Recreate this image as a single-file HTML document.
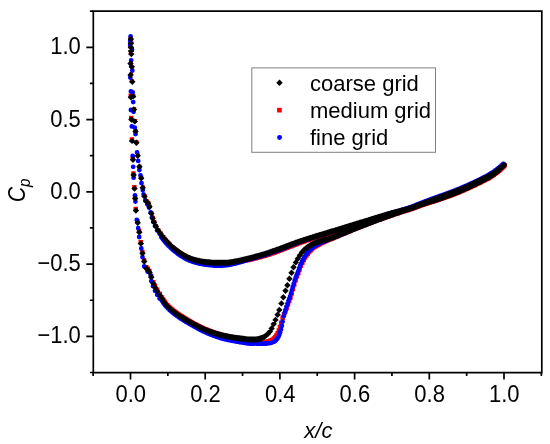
<!DOCTYPE html>
<html><head><meta charset="utf-8"><title>Cp distribution</title>
<style>html,body{margin:0;padding:0;background:#fff}svg{display:block}</style></head>
<body>
<svg width="550" height="444" viewBox="0 0 550 444">
<rect width="550" height="444" fill="#fff"/>
<path fill="#f00" d="M128.5 93.6h4.5v4.5h-4.5zM129.0 115.8h4.5v4.5h-4.5zM129.7 137.2h4.5v4.5h-4.5zM130.6 156.2h4.5v4.5h-4.5zM131.2 171.3h4.5v4.5h-4.5zM132.1 184.9h4.5v4.5h-4.5zM132.8 194.9h4.5v4.5h-4.5zM133.5 206.8h4.5v4.5h-4.5zM135.2 219.0h4.5v4.5h-4.5zM136.9 228.7h4.5v4.5h-4.5zM138.5 239.9h4.5v4.5h-4.5zM140.1 249.7h4.5v4.5h-4.5zM141.8 257.9h4.5v4.5h-4.5zM144.0 264.9h4.5v4.5h-4.5zM145.6 266.6h4.5v4.5h-4.5zM147.2 268.8h4.5v4.5h-4.5zM148.9 273.7h4.5v4.5h-4.5zM151.0 280.0h4.5v4.5h-4.5zM152.7 283.8h4.5v4.5h-4.5zM154.9 287.6h4.5v4.5h-4.5zM157.6 291.8h4.5v4.5h-4.5zM159.8 295.2h4.5v4.5h-4.5zM161.1 297.4h4.5v4.5h-4.5zM162.4 299.5h4.5v4.5h-4.5zM163.8 301.4h4.5v4.5h-4.5zM165.1 303.0h4.5v4.5h-4.5zM166.5 304.4h4.5v4.5h-4.5zM167.8 305.6h4.5v4.5h-4.5zM169.1 306.7h4.5v4.5h-4.5zM170.4 307.8h4.5v4.5h-4.5zM171.8 308.9h4.5v4.5h-4.5zM173.0 309.8h4.5v4.5h-4.5zM174.4 310.8h4.5v4.5h-4.5zM175.7 311.8h4.5v4.5h-4.5zM177.0 312.6h4.5v4.5h-4.5zM178.3 313.5h4.5v4.5h-4.5zM179.6 314.3h4.5v4.5h-4.5zM180.9 315.1h4.5v4.5h-4.5zM182.2 315.9h4.5v4.5h-4.5zM183.5 316.7h4.5v4.5h-4.5zM184.8 317.5h4.5v4.5h-4.5zM186.1 318.3h4.5v4.5h-4.5zM187.4 319.0h4.5v4.5h-4.5zM188.7 319.7h4.5v4.5h-4.5zM190.0 320.4h4.5v4.5h-4.5zM191.3 321.2h4.5v4.5h-4.5zM192.6 321.9h4.5v4.5h-4.5zM193.9 322.5h4.5v4.5h-4.5zM195.2 323.2h4.5v4.5h-4.5zM196.5 323.9h4.5v4.5h-4.5zM197.8 324.5h4.5v4.5h-4.5zM199.1 325.2h4.5v4.5h-4.5zM200.4 325.8h4.5v4.5h-4.5zM201.7 326.4h4.5v4.5h-4.5zM203.0 327.0h4.5v4.5h-4.5zM204.4 327.6h4.5v4.5h-4.5zM205.6 328.1h4.5v4.5h-4.5zM207.0 328.6h4.5v4.5h-4.5zM208.2 329.1h4.5v4.5h-4.5zM209.6 329.6h4.5v4.5h-4.5zM210.9 330.0h4.5v4.5h-4.5zM212.2 330.5h4.5v4.5h-4.5zM213.5 330.9h4.5v4.5h-4.5zM214.8 331.3h4.5v4.5h-4.5zM216.1 331.7h4.5v4.5h-4.5zM217.4 332.0h4.5v4.5h-4.5zM218.7 332.4h4.5v4.5h-4.5zM220.0 332.8h4.5v4.5h-4.5zM221.3 333.1h4.5v4.5h-4.5zM222.6 333.4h4.5v4.5h-4.5zM223.9 333.7h4.5v4.5h-4.5zM225.2 334.0h4.5v4.5h-4.5zM226.5 334.2h4.5v4.5h-4.5zM227.8 334.5h4.5v4.5h-4.5zM229.1 334.8h4.5v4.5h-4.5zM230.4 335.1h4.5v4.5h-4.5zM231.7 335.4h4.5v4.5h-4.5zM233.0 335.7h4.5v4.5h-4.5zM234.3 336.0h4.5v4.5h-4.5zM235.6 336.3h4.5v4.5h-4.5zM236.9 336.5h4.5v4.5h-4.5zM238.2 336.8h4.5v4.5h-4.5zM239.5 337.1h4.5v4.5h-4.5zM240.8 337.4h4.5v4.5h-4.5zM242.1 337.6h4.5v4.5h-4.5zM243.4 337.9h4.5v4.5h-4.5zM244.7 338.2h4.5v4.5h-4.5zM246.0 338.4h4.5v4.5h-4.5zM247.3 338.6h4.5v4.5h-4.5zM248.6 338.7h4.5v4.5h-4.5zM249.9 338.8h4.5v4.5h-4.5zM251.2 338.9h4.5v4.5h-4.5zM252.5 339.0h4.5v4.5h-4.5zM253.8 339.1h4.5v4.5h-4.5zM255.1 339.3h4.5v4.5h-4.5zM256.4 339.4h4.5v4.5h-4.5zM257.7 339.6h4.5v4.5h-4.5zM259.0 339.6h4.5v4.5h-4.5zM260.3 339.6h4.5v4.5h-4.5zM261.6 339.6h4.5v4.5h-4.5zM262.9 339.5h4.5v4.5h-4.5zM264.2 339.4h4.5v4.5h-4.5zM265.5 339.3h4.5v4.5h-4.5zM266.8 339.0h4.5v4.5h-4.5zM268.0 338.6h4.5v4.5h-4.5zM269.3 338.0h4.5v4.5h-4.5zM270.6 337.2h4.5v4.5h-4.5zM271.8 336.2h4.5v4.5h-4.5zM273.0 334.9h4.5v4.5h-4.5zM274.2 333.2h4.5v4.5h-4.5zM275.4 331.0h4.5v4.5h-4.5zM276.6 328.2h4.5v4.5h-4.5zM277.7 324.8h4.5v4.5h-4.5zM279.0 320.5h4.5v4.5h-4.5zM280.4 315.6h4.5v4.5h-4.5zM281.8 312.0h4.5v4.5h-4.5zM283.1 309.0h4.5v4.5h-4.5zM284.4 305.7h4.5v4.5h-4.5zM285.7 302.2h4.5v4.5h-4.5zM287.0 298.7h4.5v4.5h-4.5zM288.2 295.4h4.5v4.5h-4.5zM289.4 291.3h4.5v4.5h-4.5zM290.7 286.8h4.5v4.5h-4.5zM292.0 282.3h4.5v4.5h-4.5zM293.4 277.9h4.5v4.5h-4.5zM294.8 274.1h4.5v4.5h-4.5zM296.1 270.8h4.5v4.5h-4.5zM297.3 267.3h4.5v4.5h-4.5zM298.7 263.6h4.5v4.5h-4.5zM300.1 260.5h4.5v4.5h-4.5zM301.5 257.7h4.5v4.5h-4.5zM302.8 255.3h4.5v4.5h-4.5zM304.2 253.2h4.5v4.5h-4.5zM305.5 251.4h4.5v4.5h-4.5zM306.9 249.7h4.5v4.5h-4.5zM308.2 248.3h4.5v4.5h-4.5zM309.5 247.0h4.5v4.5h-4.5zM310.9 245.8h4.5v4.5h-4.5zM312.2 244.8h4.5v4.5h-4.5zM313.5 244.0h4.5v4.5h-4.5zM314.9 243.2h4.5v4.5h-4.5zM316.2 242.5h4.5v4.5h-4.5zM317.5 241.8h4.5v4.5h-4.5zM318.8 241.1h4.5v4.5h-4.5zM320.1 240.4h4.5v4.5h-4.5zM321.4 239.8h4.5v4.5h-4.5zM322.7 239.2h4.5v4.5h-4.5zM324.0 238.6h4.5v4.5h-4.5zM325.3 238.0h4.5v4.5h-4.5zM326.6 237.4h4.5v4.5h-4.5zM327.9 236.9h4.5v4.5h-4.5zM329.2 236.4h4.5v4.5h-4.5zM330.5 235.9h4.5v4.5h-4.5zM331.8 235.3h4.5v4.5h-4.5zM333.1 234.8h4.5v4.5h-4.5zM334.4 234.2h4.5v4.5h-4.5zM335.7 233.7h4.5v4.5h-4.5zM337.0 233.1h4.5v4.5h-4.5zM338.3 232.6h4.5v4.5h-4.5zM339.6 232.0h4.5v4.5h-4.5zM340.9 231.4h4.5v4.5h-4.5zM342.2 230.9h4.5v4.5h-4.5zM343.5 230.3h4.5v4.5h-4.5zM344.8 229.8h4.5v4.5h-4.5zM346.1 229.3h4.5v4.5h-4.5zM347.4 228.7h4.5v4.5h-4.5zM348.7 228.2h4.5v4.5h-4.5zM350.0 227.6h4.5v4.5h-4.5zM351.3 227.1h4.5v4.5h-4.5zM352.6 226.6h4.5v4.5h-4.5zM353.9 226.1h4.5v4.5h-4.5zM355.2 225.5h4.5v4.5h-4.5zM356.5 225.0h4.5v4.5h-4.5zM357.8 224.5h4.5v4.5h-4.5zM359.1 224.0h4.5v4.5h-4.5zM360.4 223.5h4.5v4.5h-4.5zM361.7 223.0h4.5v4.5h-4.5zM363.0 222.5h4.5v4.5h-4.5zM364.3 222.0h4.5v4.5h-4.5zM365.6 221.5h4.5v4.5h-4.5zM366.9 221.0h4.5v4.5h-4.5zM368.2 220.5h4.5v4.5h-4.5zM369.5 220.1h4.5v4.5h-4.5zM370.8 219.6h4.5v4.5h-4.5zM372.1 219.1h4.5v4.5h-4.5zM373.4 218.6h4.5v4.5h-4.5zM374.7 218.1h4.5v4.5h-4.5zM376.0 217.6h4.5v4.5h-4.5zM377.3 217.2h4.5v4.5h-4.5zM378.6 216.7h4.5v4.5h-4.5zM379.9 216.2h4.5v4.5h-4.5zM381.2 215.8h4.5v4.5h-4.5zM382.5 215.3h4.5v4.5h-4.5zM383.8 214.8h4.5v4.5h-4.5zM385.1 214.4h4.5v4.5h-4.5zM386.4 213.9h4.5v4.5h-4.5zM387.7 213.5h4.5v4.5h-4.5zM389.0 213.0h4.5v4.5h-4.5zM390.3 212.6h4.5v4.5h-4.5zM391.6 212.1h4.5v4.5h-4.5zM392.9 211.7h4.5v4.5h-4.5zM394.2 211.3h4.5v4.5h-4.5zM395.5 210.9h4.5v4.5h-4.5zM396.8 210.4h4.5v4.5h-4.5zM398.1 210.0h4.5v4.5h-4.5zM399.4 209.6h4.5v4.5h-4.5zM400.7 209.2h4.5v4.5h-4.5zM402.0 208.7h4.5v4.5h-4.5zM403.3 208.3h4.5v4.5h-4.5zM404.6 207.9h4.5v4.5h-4.5zM405.9 207.5h4.5v4.5h-4.5zM407.2 207.0h4.5v4.5h-4.5zM408.5 206.6h4.5v4.5h-4.5zM409.8 206.1h4.5v4.5h-4.5zM411.1 205.7h4.5v4.5h-4.5zM412.4 205.2h4.5v4.5h-4.5zM413.7 204.8h4.5v4.5h-4.5zM415.0 204.3h4.5v4.5h-4.5zM416.3 203.9h4.5v4.5h-4.5zM417.6 203.4h4.5v4.5h-4.5zM418.9 203.0h4.5v4.5h-4.5zM420.2 202.5h4.5v4.5h-4.5zM421.5 202.1h4.5v4.5h-4.5zM422.8 201.6h4.5v4.5h-4.5zM424.1 201.2h4.5v4.5h-4.5zM425.4 200.8h4.5v4.5h-4.5zM426.7 200.4h4.5v4.5h-4.5zM428.0 200.0h4.5v4.5h-4.5zM429.3 199.6h4.5v4.5h-4.5zM430.6 199.2h4.5v4.5h-4.5zM431.9 198.8h4.5v4.5h-4.5zM433.2 198.4h4.5v4.5h-4.5zM434.5 197.9h4.5v4.5h-4.5zM435.8 197.5h4.5v4.5h-4.5zM437.1 197.0h4.5v4.5h-4.5zM438.4 196.6h4.5v4.5h-4.5zM439.7 196.2h4.5v4.5h-4.5zM441.0 195.7h4.5v4.5h-4.5zM442.3 195.3h4.5v4.5h-4.5zM443.6 194.8h4.5v4.5h-4.5zM444.9 194.3h4.5v4.5h-4.5zM446.2 193.9h4.5v4.5h-4.5zM447.5 193.4h4.5v4.5h-4.5zM448.8 192.9h4.5v4.5h-4.5zM450.1 192.4h4.5v4.5h-4.5zM451.4 191.9h4.5v4.5h-4.5zM452.7 191.4h4.5v4.5h-4.5zM454.0 190.9h4.5v4.5h-4.5zM455.3 190.4h4.5v4.5h-4.5zM456.6 189.9h4.5v4.5h-4.5zM457.9 189.3h4.5v4.5h-4.5zM459.2 188.8h4.5v4.5h-4.5zM460.5 188.2h4.5v4.5h-4.5zM461.8 187.7h4.5v4.5h-4.5zM463.1 187.1h4.5v4.5h-4.5zM464.4 186.5h4.5v4.5h-4.5zM465.7 185.9h4.5v4.5h-4.5zM467.0 185.3h4.5v4.5h-4.5zM468.3 184.7h4.5v4.5h-4.5zM469.6 184.1h4.5v4.5h-4.5zM470.9 183.5h4.5v4.5h-4.5zM472.2 182.9h4.5v4.5h-4.5zM473.5 182.3h4.5v4.5h-4.5zM474.8 181.6h4.5v4.5h-4.5zM476.1 181.0h4.5v4.5h-4.5zM477.4 180.4h4.5v4.5h-4.5zM478.7 179.8h4.5v4.5h-4.5zM480.0 179.1h4.5v4.5h-4.5zM481.3 178.5h4.5v4.5h-4.5zM482.6 177.8h4.5v4.5h-4.5zM483.9 177.1h4.5v4.5h-4.5zM485.2 176.4h4.5v4.5h-4.5zM486.5 175.7h4.5v4.5h-4.5zM487.8 174.9h4.5v4.5h-4.5zM489.1 174.1h4.5v4.5h-4.5zM490.3 173.3h4.5v4.5h-4.5zM491.6 172.5h4.5v4.5h-4.5zM492.9 171.5h4.5v4.5h-4.5zM494.2 170.5h4.5v4.5h-4.5zM495.5 169.5h4.5v4.5h-4.5zM496.8 168.5h4.5v4.5h-4.5zM498.0 167.3h4.5v4.5h-4.5zM499.4 166.1h4.5v4.5h-4.5zM500.6 164.9h4.5v4.5h-4.5zM501.7 163.9h4.5v4.5h-4.5zM160.9 235.3h4.5v4.5h-4.5zM162.2 236.8h4.5v4.5h-4.5zM163.5 238.4h4.5v4.5h-4.5zM164.8 239.8h4.5v4.5h-4.5zM166.1 241.3h4.5v4.5h-4.5zM167.5 242.6h4.5v4.5h-4.5zM168.8 243.9h4.5v4.5h-4.5zM170.1 245.0h4.5v4.5h-4.5zM171.4 246.2h4.5v4.5h-4.5zM172.7 247.2h4.5v4.5h-4.5zM174.0 248.3h4.5v4.5h-4.5zM175.4 249.3h4.5v4.5h-4.5zM176.7 250.2h4.5v4.5h-4.5zM178.0 251.0h4.5v4.5h-4.5zM179.2 251.9h4.5v4.5h-4.5zM180.6 252.7h4.5v4.5h-4.5zM181.9 253.5h4.5v4.5h-4.5zM183.2 254.3h4.5v4.5h-4.5zM184.5 255.0h4.5v4.5h-4.5zM185.8 255.6h4.5v4.5h-4.5zM187.1 256.2h4.5v4.5h-4.5zM188.4 256.7h4.5v4.5h-4.5zM189.7 257.2h4.5v4.5h-4.5zM191.0 257.6h4.5v4.5h-4.5zM192.4 258.0h4.5v4.5h-4.5zM193.7 258.3h4.5v4.5h-4.5zM195.0 258.6h4.5v4.5h-4.5zM196.3 258.9h4.5v4.5h-4.5zM197.5 259.2h4.5v4.5h-4.5zM198.9 259.4h4.5v4.5h-4.5zM200.2 259.6h4.5v4.5h-4.5zM201.5 259.8h4.5v4.5h-4.5zM202.8 260.0h4.5v4.5h-4.5zM204.1 260.2h4.5v4.5h-4.5zM205.4 260.3h4.5v4.5h-4.5zM206.7 260.4h4.5v4.5h-4.5zM208.0 260.6h4.5v4.5h-4.5zM209.3 260.7h4.5v4.5h-4.5zM210.6 260.8h4.5v4.5h-4.5zM211.9 260.9h4.5v4.5h-4.5zM213.2 260.9h4.5v4.5h-4.5zM214.5 260.9h4.5v4.5h-4.5zM215.8 260.9h4.5v4.5h-4.5zM217.1 260.9h4.5v4.5h-4.5zM218.4 260.9h4.5v4.5h-4.5zM219.7 260.9h4.5v4.5h-4.5zM221.0 260.9h4.5v4.5h-4.5zM222.3 260.9h4.5v4.5h-4.5zM223.6 260.9h4.5v4.5h-4.5zM224.9 260.8h4.5v4.5h-4.5zM226.2 260.7h4.5v4.5h-4.5zM227.5 260.5h4.5v4.5h-4.5zM228.8 260.3h4.5v4.5h-4.5zM230.1 260.1h4.5v4.5h-4.5zM231.4 259.9h4.5v4.5h-4.5zM232.6 259.7h4.5v4.5h-4.5zM234.0 259.5h4.5v4.5h-4.5zM235.3 259.4h4.5v4.5h-4.5zM236.6 259.2h4.5v4.5h-4.5zM237.9 259.0h4.5v4.5h-4.5zM239.2 258.8h4.5v4.5h-4.5zM240.5 258.6h4.5v4.5h-4.5zM241.8 258.4h4.5v4.5h-4.5zM243.1 258.2h4.5v4.5h-4.5zM244.4 258.0h4.5v4.5h-4.5zM245.6 257.7h4.5v4.5h-4.5zM247.0 257.5h4.5v4.5h-4.5zM248.3 257.3h4.5v4.5h-4.5zM249.6 256.9h4.5v4.5h-4.5zM250.8 256.6h4.5v4.5h-4.5zM252.2 256.3h4.5v4.5h-4.5zM253.5 255.9h4.5v4.5h-4.5zM254.7 255.6h4.5v4.5h-4.5zM256.0 255.2h4.5v4.5h-4.5zM257.4 254.9h4.5v4.5h-4.5zM258.7 254.5h4.5v4.5h-4.5zM260.0 254.1h4.5v4.5h-4.5zM261.3 253.8h4.5v4.5h-4.5zM262.6 253.4h4.5v4.5h-4.5zM263.9 253.0h4.5v4.5h-4.5zM265.2 252.6h4.5v4.5h-4.5zM266.5 252.2h4.5v4.5h-4.5zM267.8 251.7h4.5v4.5h-4.5zM269.1 251.3h4.5v4.5h-4.5zM270.3 250.9h4.5v4.5h-4.5zM271.7 250.4h4.5v4.5h-4.5zM272.9 249.9h4.5v4.5h-4.5zM274.3 249.5h4.5v4.5h-4.5zM275.5 249.0h4.5v4.5h-4.5zM276.9 248.6h4.5v4.5h-4.5zM278.1 248.1h4.5v4.5h-4.5zM279.5 247.6h4.5v4.5h-4.5zM280.7 247.1h4.5v4.5h-4.5zM282.0 246.6h4.5v4.5h-4.5zM283.3 246.1h4.5v4.5h-4.5zM284.6 245.6h4.5v4.5h-4.5zM286.0 245.1h4.5v4.5h-4.5zM287.2 244.6h4.5v4.5h-4.5zM288.5 244.1h4.5v4.5h-4.5zM289.8 243.6h4.5v4.5h-4.5zM291.1 243.1h4.5v4.5h-4.5zM292.4 242.6h4.5v4.5h-4.5zM293.8 242.0h4.5v4.5h-4.5zM295.1 241.5h4.5v4.5h-4.5zM296.3 241.1h4.5v4.5h-4.5zM297.6 240.6h4.5v4.5h-4.5zM298.9 240.1h4.5v4.5h-4.5zM300.2 239.7h4.5v4.5h-4.5zM301.6 239.2h4.5v4.5h-4.5zM302.8 238.8h4.5v4.5h-4.5zM304.2 238.3h4.5v4.5h-4.5zM305.4 237.9h4.5v4.5h-4.5zM306.8 237.5h4.5v4.5h-4.5zM308.0 237.1h4.5v4.5h-4.5zM309.4 236.6h4.5v4.5h-4.5zM310.7 236.2h4.5v4.5h-4.5zM311.9 235.8h4.5v4.5h-4.5zM313.3 235.4h4.5v4.5h-4.5zM314.6 235.0h4.5v4.5h-4.5zM315.8 234.6h4.5v4.5h-4.5zM317.1 234.2h4.5v4.5h-4.5zM318.5 233.7h4.5v4.5h-4.5zM319.8 233.3h4.5v4.5h-4.5zM321.0 232.9h4.5v4.5h-4.5zM322.3 232.5h4.5v4.5h-4.5zM323.7 232.1h4.5v4.5h-4.5zM325.0 231.7h4.5v4.5h-4.5zM326.2 231.3h4.5v4.5h-4.5zM327.5 230.9h4.5v4.5h-4.5zM328.9 230.5h4.5v4.5h-4.5zM330.2 230.1h4.5v4.5h-4.5zM331.5 229.7h4.5v4.5h-4.5zM332.7 229.3h4.5v4.5h-4.5zM334.0 228.9h4.5v4.5h-4.5zM335.4 228.5h4.5v4.5h-4.5zM336.7 228.1h4.5v4.5h-4.5zM337.9 227.7h4.5v4.5h-4.5zM339.2 227.3h4.5v4.5h-4.5zM340.5 226.9h4.5v4.5h-4.5zM341.9 226.5h4.5v4.5h-4.5zM343.2 226.1h4.5v4.5h-4.5zM344.4 225.7h4.5v4.5h-4.5zM345.7 225.3h4.5v4.5h-4.5zM347.0 224.9h4.5v4.5h-4.5zM348.4 224.5h4.5v4.5h-4.5zM349.7 224.1h4.5v4.5h-4.5zM351.0 223.7h4.5v4.5h-4.5zM352.2 223.3h4.5v4.5h-4.5zM353.5 222.9h4.5v4.5h-4.5zM354.9 222.5h4.5v4.5h-4.5zM356.2 222.1h4.5v4.5h-4.5zM357.5 221.7h4.5v4.5h-4.5zM358.7 221.3h4.5v4.5h-4.5zM360.0 220.9h4.5v4.5h-4.5zM361.3 220.5h4.5v4.5h-4.5zM362.7 220.1h4.5v4.5h-4.5zM364.0 219.7h4.5v4.5h-4.5zM365.2 219.3h4.5v4.5h-4.5zM366.5 218.9h4.5v4.5h-4.5zM367.8 218.5h4.5v4.5h-4.5zM369.2 218.1h4.5v4.5h-4.5zM370.5 217.7h4.5v4.5h-4.5zM371.7 217.3h4.5v4.5h-4.5zM373.0 216.9h4.5v4.5h-4.5zM374.4 216.5h4.5v4.5h-4.5zM375.7 216.1h4.5v4.5h-4.5zM377.0 215.7h4.5v4.5h-4.5zM378.2 215.3h4.5v4.5h-4.5zM379.5 214.9h4.5v4.5h-4.5zM380.9 214.5h4.5v4.5h-4.5zM382.2 214.1h4.5v4.5h-4.5zM383.5 213.7h4.5v4.5h-4.5zM384.8 213.4h4.5v4.5h-4.5zM386.0 213.0h4.5v4.5h-4.5zM387.3 212.6h4.5v4.5h-4.5zM388.6 212.2h4.5v4.5h-4.5zM390.0 211.9h4.5v4.5h-4.5zM391.3 211.5h4.5v4.5h-4.5zM392.6 211.2h4.5v4.5h-4.5zM393.9 210.8h4.5v4.5h-4.5zM395.2 210.5h4.5v4.5h-4.5zM396.4 210.1h4.5v4.5h-4.5zM397.8 209.8h4.5v4.5h-4.5zM399.1 209.5h4.5v4.5h-4.5zM400.4 209.1h4.5v4.5h-4.5zM401.7 208.8h4.5v4.5h-4.5zM402.9 208.4h4.5v4.5h-4.5zM404.2 208.0h4.5v4.5h-4.5zM405.5 207.7h4.5v4.5h-4.5zM406.8 207.3h4.5v4.5h-4.5zM408.1 206.9h4.5v4.5h-4.5zM409.4 206.4h4.5v4.5h-4.5zM410.7 206.0h4.5v4.5h-4.5zM412.0 205.5h4.5v4.5h-4.5zM413.3 205.0h4.5v4.5h-4.5zM414.6 204.6h4.5v4.5h-4.5zM415.9 204.1h4.5v4.5h-4.5zM417.3 203.6h4.5v4.5h-4.5zM418.5 203.1h4.5v4.5h-4.5zM419.8 202.6h4.5v4.5h-4.5zM421.2 202.2h4.5v4.5h-4.5zM422.4 201.7h4.5v4.5h-4.5zM423.7 201.2h4.5v4.5h-4.5zM425.1 200.7h4.5v4.5h-4.5zM426.3 200.3h4.5v4.5h-4.5zM427.6 199.8h4.5v4.5h-4.5zM429.0 199.3h4.5v4.5h-4.5zM430.2 198.9h4.5v4.5h-4.5zM431.5 198.4h4.5v4.5h-4.5zM432.9 197.9h4.5v4.5h-4.5zM434.1 197.4h4.5v4.5h-4.5zM435.4 197.0h4.5v4.5h-4.5zM436.8 196.5h4.5v4.5h-4.5zM438.0 196.0h4.5v4.5h-4.5zM439.3 195.5h4.5v4.5h-4.5zM440.7 195.1h4.5v4.5h-4.5zM441.9 194.6h4.5v4.5h-4.5zM443.2 194.1h4.5v4.5h-4.5zM444.6 193.6h4.5v4.5h-4.5zM445.8 193.2h4.5v4.5h-4.5zM447.1 192.7h4.5v4.5h-4.5zM448.5 192.2h4.5v4.5h-4.5zM449.7 191.7h4.5v4.5h-4.5zM451.0 191.2h4.5v4.5h-4.5zM452.3 190.7h4.5v4.5h-4.5zM453.6 190.2h4.5v4.5h-4.5zM454.9 189.6h4.5v4.5h-4.5zM456.2 189.1h4.5v4.5h-4.5zM457.5 188.6h4.5v4.5h-4.5zM458.8 188.0h4.5v4.5h-4.5zM460.1 187.5h4.5v4.5h-4.5zM461.4 186.9h4.5v4.5h-4.5zM462.7 186.4h4.5v4.5h-4.5zM464.0 185.8h4.5v4.5h-4.5zM465.3 185.2h4.5v4.5h-4.5zM466.6 184.6h4.5v4.5h-4.5zM467.9 184.0h4.5v4.5h-4.5zM469.2 183.4h4.5v4.5h-4.5zM470.5 182.8h4.5v4.5h-4.5zM471.8 182.2h4.5v4.5h-4.5zM473.1 181.6h4.5v4.5h-4.5zM474.4 180.9h4.5v4.5h-4.5zM475.7 180.3h4.5v4.5h-4.5zM477.0 179.7h4.5v4.5h-4.5zM478.3 179.1h4.5v4.5h-4.5zM479.6 178.4h4.5v4.5h-4.5zM480.9 177.8h4.5v4.5h-4.5zM482.2 177.1h4.5v4.5h-4.5zM483.5 176.4h4.5v4.5h-4.5zM484.8 175.7h4.5v4.5h-4.5zM486.1 175.0h4.5v4.5h-4.5zM487.4 174.3h4.5v4.5h-4.5zM488.7 173.5h4.5v4.5h-4.5zM490.0 172.7h4.5v4.5h-4.5zM491.2 171.9h4.5v4.5h-4.5zM492.5 171.0h4.5v4.5h-4.5zM493.9 170.1h4.5v4.5h-4.5zM495.2 169.2h4.5v4.5h-4.5zM496.4 168.2h4.5v4.5h-4.5zM497.7 167.1h4.5v4.5h-4.5zM499.0 166.1h4.5v4.5h-4.5zM500.3 165.0h4.5v4.5h-4.5zM501.6 163.8h4.5v4.5h-4.5zM502.3 163.1h4.5v4.5h-4.5zM131.6 94.0h3.8v3.8h-3.8zM132.3 107.1h3.8v3.8h-3.8zM133.2 119.0h3.8v3.8h-3.8zM133.9 129.0h3.8v3.8h-3.8zM134.8 140.3h3.8v3.8h-3.8zM136.1 153.3h3.8v3.8h-3.8zM137.8 164.4h3.8v3.8h-3.8zM139.6 175.8h3.8v3.8h-3.8zM141.1 185.3h3.8v3.8h-3.8zM142.9 194.0h3.8v3.8h-3.8zM144.8 199.0h3.8v3.8h-3.8zM146.6 200.8h3.8v3.8h-3.8zM147.9 204.4h3.8v3.8h-3.8zM149.8 211.2h3.8v3.8h-3.8zM151.1 215.8h3.8v3.8h-3.8zM152.5 219.9h3.8v3.8h-3.8zM154.3 224.0h3.8v3.8h-3.8zM156.6 228.1h3.8v3.8h-3.8zM158.9 231.2h3.8v3.8h-3.8zM128.4 36.4h3.8v3.8h-3.8zM129.6 40.5h3.8v3.8h-3.8zM128.4 44.6h3.8v3.8h-3.8zM129.7 48.3h3.8v3.8h-3.8zM128.8 51.3h3.8v3.8h-3.8zM129.2 60.9h3.8v3.8h-3.8zM129.3 64.1h3.8v3.8h-3.8zM129.3 72.3h3.8v3.8h-3.8zM129.8 79.1h3.8v3.8h-3.8z"/>
<path fill="#00f" d="M128.2 36.4a2.40 2.40 0 1 0 4.8 0a2.40 2.40 0 1 0 -4.8 0zM127.8 41.0a2.40 2.40 0 1 0 4.8 0a2.40 2.40 0 1 0 -4.8 0zM129.6 49.5a2.40 2.40 0 1 0 4.8 0a2.40 2.40 0 1 0 -4.8 0zM127.8 45.5a2.40 2.40 0 1 0 4.8 0a2.40 2.40 0 1 0 -4.8 0zM128.8 60.3a2.40 2.40 0 1 0 4.8 0a2.40 2.40 0 1 0 -4.8 0zM129.9 70.5a2.40 2.40 0 1 0 4.8 0a2.40 2.40 0 1 0 -4.8 0zM127.9 77.5a2.40 2.40 0 1 0 4.8 0a2.40 2.40 0 1 0 -4.8 0zM128.5 91.4a2.40 2.40 0 1 0 4.8 0a2.40 2.40 0 1 0 -4.8 0zM130.3 92.3a2.40 2.40 0 1 0 4.8 0a2.40 2.40 0 1 0 -4.8 0zM128.5 110.0a2.40 2.40 0 1 0 4.8 0a2.40 2.40 0 1 0 -4.8 0zM129.4 126.4a2.40 2.40 0 1 0 4.8 0a2.40 2.40 0 1 0 -4.8 0zM130.3 155.9a2.40 2.40 0 1 0 4.8 0a2.40 2.40 0 1 0 -4.8 0zM130.8 166.8a2.40 2.40 0 1 0 4.8 0a2.40 2.40 0 1 0 -4.8 0zM131.2 177.7a2.40 2.40 0 1 0 4.8 0a2.40 2.40 0 1 0 -4.8 0zM132.6 195.5a2.40 2.40 0 1 0 4.8 0a2.40 2.40 0 1 0 -4.8 0zM133.0 201.6a2.40 2.40 0 1 0 4.8 0a2.40 2.40 0 1 0 -4.8 0zM134.4 220.0a2.40 2.40 0 1 0 4.8 0a2.40 2.40 0 1 0 -4.8 0zM135.8 228.2a2.40 2.40 0 1 0 4.8 0a2.40 2.40 0 1 0 -4.8 0zM136.8 237.0a2.40 2.40 0 1 0 4.8 0a2.40 2.40 0 1 0 -4.8 0zM138.9 248.5a2.40 2.40 0 1 0 4.8 0a2.40 2.40 0 1 0 -4.8 0zM140.1 257.1a2.40 2.40 0 1 0 4.8 0a2.40 2.40 0 1 0 -4.8 0zM141.8 266.4a2.40 2.40 0 1 0 4.8 0a2.40 2.40 0 1 0 -4.8 0zM145.2 271.5a2.40 2.40 0 1 0 4.8 0a2.40 2.40 0 1 0 -4.8 0zM148.3 275.6a2.40 2.40 0 1 0 4.8 0a2.40 2.40 0 1 0 -4.8 0zM148.9 281.1a2.40 2.40 0 1 0 4.8 0a2.40 2.40 0 1 0 -4.8 0zM150.6 286.2a2.40 2.40 0 1 0 4.8 0a2.40 2.40 0 1 0 -4.8 0zM152.6 290.8a2.40 2.40 0 1 0 4.8 0a2.40 2.40 0 1 0 -4.8 0zM154.8 294.8a2.40 2.40 0 1 0 4.8 0a2.40 2.40 0 1 0 -4.8 0zM157.2 298.6a2.40 2.40 0 1 0 4.8 0a2.40 2.40 0 1 0 -4.8 0zM159.2 300.0a2.40 2.40 0 1 0 4.8 0a2.40 2.40 0 1 0 -4.8 0zM160.1 301.5a2.40 2.40 0 1 0 4.8 0a2.40 2.40 0 1 0 -4.8 0zM161.0 303.0a2.40 2.40 0 1 0 4.8 0a2.40 2.40 0 1 0 -4.8 0zM162.0 304.3a2.40 2.40 0 1 0 4.8 0a2.40 2.40 0 1 0 -4.8 0zM162.9 305.5a2.40 2.40 0 1 0 4.8 0a2.40 2.40 0 1 0 -4.8 0zM163.8 306.6a2.40 2.40 0 1 0 4.8 0a2.40 2.40 0 1 0 -4.8 0zM164.8 307.6a2.40 2.40 0 1 0 4.8 0a2.40 2.40 0 1 0 -4.8 0zM165.7 308.6a2.40 2.40 0 1 0 4.8 0a2.40 2.40 0 1 0 -4.8 0zM166.6 309.4a2.40 2.40 0 1 0 4.8 0a2.40 2.40 0 1 0 -4.8 0zM167.5 310.2a2.40 2.40 0 1 0 4.8 0a2.40 2.40 0 1 0 -4.8 0zM168.4 311.0a2.40 2.40 0 1 0 4.8 0a2.40 2.40 0 1 0 -4.8 0zM169.3 311.8a2.40 2.40 0 1 0 4.8 0a2.40 2.40 0 1 0 -4.8 0zM170.2 312.5a2.40 2.40 0 1 0 4.8 0a2.40 2.40 0 1 0 -4.8 0zM171.1 313.3a2.40 2.40 0 1 0 4.8 0a2.40 2.40 0 1 0 -4.8 0zM172.0 314.0a2.40 2.40 0 1 0 4.8 0a2.40 2.40 0 1 0 -4.8 0zM172.9 314.7a2.40 2.40 0 1 0 4.8 0a2.40 2.40 0 1 0 -4.8 0zM173.8 315.3a2.40 2.40 0 1 0 4.8 0a2.40 2.40 0 1 0 -4.8 0zM174.7 316.0a2.40 2.40 0 1 0 4.8 0a2.40 2.40 0 1 0 -4.8 0zM175.6 316.6a2.40 2.40 0 1 0 4.8 0a2.40 2.40 0 1 0 -4.8 0zM176.5 317.2a2.40 2.40 0 1 0 4.8 0a2.40 2.40 0 1 0 -4.8 0zM177.4 317.9a2.40 2.40 0 1 0 4.8 0a2.40 2.40 0 1 0 -4.8 0zM178.3 318.4a2.40 2.40 0 1 0 4.8 0a2.40 2.40 0 1 0 -4.8 0zM179.2 319.0a2.40 2.40 0 1 0 4.8 0a2.40 2.40 0 1 0 -4.8 0zM180.1 319.6a2.40 2.40 0 1 0 4.8 0a2.40 2.40 0 1 0 -4.8 0zM181.1 320.2a2.40 2.40 0 1 0 4.8 0a2.40 2.40 0 1 0 -4.8 0zM181.9 320.7a2.40 2.40 0 1 0 4.8 0a2.40 2.40 0 1 0 -4.8 0zM182.8 321.3a2.40 2.40 0 1 0 4.8 0a2.40 2.40 0 1 0 -4.8 0zM183.7 321.9a2.40 2.40 0 1 0 4.8 0a2.40 2.40 0 1 0 -4.8 0zM184.6 322.4a2.40 2.40 0 1 0 4.8 0a2.40 2.40 0 1 0 -4.8 0zM185.6 323.0a2.40 2.40 0 1 0 4.8 0a2.40 2.40 0 1 0 -4.8 0zM186.5 323.5a2.40 2.40 0 1 0 4.8 0a2.40 2.40 0 1 0 -4.8 0zM187.3 324.0a2.40 2.40 0 1 0 4.8 0a2.40 2.40 0 1 0 -4.8 0zM188.3 324.6a2.40 2.40 0 1 0 4.8 0a2.40 2.40 0 1 0 -4.8 0zM189.2 325.1a2.40 2.40 0 1 0 4.8 0a2.40 2.40 0 1 0 -4.8 0zM190.1 325.6a2.40 2.40 0 1 0 4.8 0a2.40 2.40 0 1 0 -4.8 0zM191.0 326.1a2.40 2.40 0 1 0 4.8 0a2.40 2.40 0 1 0 -4.8 0zM191.9 326.6a2.40 2.40 0 1 0 4.8 0a2.40 2.40 0 1 0 -4.8 0zM192.7 327.1a2.40 2.40 0 1 0 4.8 0a2.40 2.40 0 1 0 -4.8 0zM193.7 327.6a2.40 2.40 0 1 0 4.8 0a2.40 2.40 0 1 0 -4.8 0zM194.6 328.0a2.40 2.40 0 1 0 4.8 0a2.40 2.40 0 1 0 -4.8 0zM195.4 328.5a2.40 2.40 0 1 0 4.8 0a2.40 2.40 0 1 0 -4.8 0zM196.3 329.0a2.40 2.40 0 1 0 4.8 0a2.40 2.40 0 1 0 -4.8 0zM197.2 329.5a2.40 2.40 0 1 0 4.8 0a2.40 2.40 0 1 0 -4.8 0zM198.2 330.0a2.40 2.40 0 1 0 4.8 0a2.40 2.40 0 1 0 -4.8 0zM199.0 330.4a2.40 2.40 0 1 0 4.8 0a2.40 2.40 0 1 0 -4.8 0zM200.0 330.9a2.40 2.40 0 1 0 4.8 0a2.40 2.40 0 1 0 -4.8 0zM200.9 331.4a2.40 2.40 0 1 0 4.8 0a2.40 2.40 0 1 0 -4.8 0zM201.8 331.8a2.40 2.40 0 1 0 4.8 0a2.40 2.40 0 1 0 -4.8 0zM202.7 332.2a2.40 2.40 0 1 0 4.8 0a2.40 2.40 0 1 0 -4.8 0zM203.6 332.6a2.40 2.40 0 1 0 4.8 0a2.40 2.40 0 1 0 -4.8 0zM204.5 333.0a2.40 2.40 0 1 0 4.8 0a2.40 2.40 0 1 0 -4.8 0zM205.4 333.4a2.40 2.40 0 1 0 4.8 0a2.40 2.40 0 1 0 -4.8 0zM206.3 333.8a2.40 2.40 0 1 0 4.8 0a2.40 2.40 0 1 0 -4.8 0zM207.2 334.2a2.40 2.40 0 1 0 4.8 0a2.40 2.40 0 1 0 -4.8 0zM208.1 334.5a2.40 2.40 0 1 0 4.8 0a2.40 2.40 0 1 0 -4.8 0zM209.0 334.9a2.40 2.40 0 1 0 4.8 0a2.40 2.40 0 1 0 -4.8 0zM209.9 335.2a2.40 2.40 0 1 0 4.8 0a2.40 2.40 0 1 0 -4.8 0zM210.8 335.6a2.40 2.40 0 1 0 4.8 0a2.40 2.40 0 1 0 -4.8 0zM211.7 335.9a2.40 2.40 0 1 0 4.8 0a2.40 2.40 0 1 0 -4.8 0zM212.6 336.2a2.40 2.40 0 1 0 4.8 0a2.40 2.40 0 1 0 -4.8 0zM213.5 336.5a2.40 2.40 0 1 0 4.8 0a2.40 2.40 0 1 0 -4.8 0zM214.4 336.8a2.40 2.40 0 1 0 4.8 0a2.40 2.40 0 1 0 -4.8 0zM215.3 337.1a2.40 2.40 0 1 0 4.8 0a2.40 2.40 0 1 0 -4.8 0zM216.2 337.4a2.40 2.40 0 1 0 4.8 0a2.40 2.40 0 1 0 -4.8 0zM217.1 337.7a2.40 2.40 0 1 0 4.8 0a2.40 2.40 0 1 0 -4.8 0zM218.0 338.0a2.40 2.40 0 1 0 4.8 0a2.40 2.40 0 1 0 -4.8 0zM218.9 338.2a2.40 2.40 0 1 0 4.8 0a2.40 2.40 0 1 0 -4.8 0zM219.8 338.5a2.40 2.40 0 1 0 4.8 0a2.40 2.40 0 1 0 -4.8 0zM220.7 338.7a2.40 2.40 0 1 0 4.8 0a2.40 2.40 0 1 0 -4.8 0zM221.6 339.0a2.40 2.40 0 1 0 4.8 0a2.40 2.40 0 1 0 -4.8 0zM222.5 339.2a2.40 2.40 0 1 0 4.8 0a2.40 2.40 0 1 0 -4.8 0zM223.4 339.4a2.40 2.40 0 1 0 4.8 0a2.40 2.40 0 1 0 -4.8 0zM224.3 339.6a2.40 2.40 0 1 0 4.8 0a2.40 2.40 0 1 0 -4.8 0zM225.2 339.8a2.40 2.40 0 1 0 4.8 0a2.40 2.40 0 1 0 -4.8 0zM226.1 340.0a2.40 2.40 0 1 0 4.8 0a2.40 2.40 0 1 0 -4.8 0zM227.0 340.2a2.40 2.40 0 1 0 4.8 0a2.40 2.40 0 1 0 -4.8 0zM227.9 340.4a2.40 2.40 0 1 0 4.8 0a2.40 2.40 0 1 0 -4.8 0zM228.8 340.6a2.40 2.40 0 1 0 4.8 0a2.40 2.40 0 1 0 -4.8 0zM229.7 340.7a2.40 2.40 0 1 0 4.8 0a2.40 2.40 0 1 0 -4.8 0zM230.6 340.9a2.40 2.40 0 1 0 4.8 0a2.40 2.40 0 1 0 -4.8 0zM231.5 341.1a2.40 2.40 0 1 0 4.8 0a2.40 2.40 0 1 0 -4.8 0zM232.4 341.2a2.40 2.40 0 1 0 4.8 0a2.40 2.40 0 1 0 -4.8 0zM233.3 341.4a2.40 2.40 0 1 0 4.8 0a2.40 2.40 0 1 0 -4.8 0zM234.2 341.5a2.40 2.40 0 1 0 4.8 0a2.40 2.40 0 1 0 -4.8 0zM235.1 341.7a2.40 2.40 0 1 0 4.8 0a2.40 2.40 0 1 0 -4.8 0zM236.0 341.8a2.40 2.40 0 1 0 4.8 0a2.40 2.40 0 1 0 -4.8 0zM236.9 342.0a2.40 2.40 0 1 0 4.8 0a2.40 2.40 0 1 0 -4.8 0zM237.8 342.1a2.40 2.40 0 1 0 4.8 0a2.40 2.40 0 1 0 -4.8 0zM238.7 342.3a2.40 2.40 0 1 0 4.8 0a2.40 2.40 0 1 0 -4.8 0zM239.6 342.4a2.40 2.40 0 1 0 4.8 0a2.40 2.40 0 1 0 -4.8 0zM240.5 342.6a2.40 2.40 0 1 0 4.8 0a2.40 2.40 0 1 0 -4.8 0zM241.4 342.7a2.40 2.40 0 1 0 4.8 0a2.40 2.40 0 1 0 -4.8 0zM242.3 342.9a2.40 2.40 0 1 0 4.8 0a2.40 2.40 0 1 0 -4.8 0zM243.2 343.0a2.40 2.40 0 1 0 4.8 0a2.40 2.40 0 1 0 -4.8 0zM244.1 343.2a2.40 2.40 0 1 0 4.8 0a2.40 2.40 0 1 0 -4.8 0zM245.0 343.3a2.40 2.40 0 1 0 4.8 0a2.40 2.40 0 1 0 -4.8 0zM245.9 343.4a2.40 2.40 0 1 0 4.8 0a2.40 2.40 0 1 0 -4.8 0zM246.8 343.5a2.40 2.40 0 1 0 4.8 0a2.40 2.40 0 1 0 -4.8 0zM247.7 343.5a2.40 2.40 0 1 0 4.8 0a2.40 2.40 0 1 0 -4.8 0zM248.6 343.5a2.40 2.40 0 1 0 4.8 0a2.40 2.40 0 1 0 -4.8 0zM249.5 343.5a2.40 2.40 0 1 0 4.8 0a2.40 2.40 0 1 0 -4.8 0zM250.4 343.5a2.40 2.40 0 1 0 4.8 0a2.40 2.40 0 1 0 -4.8 0zM251.3 343.6a2.40 2.40 0 1 0 4.8 0a2.40 2.40 0 1 0 -4.8 0zM252.2 343.6a2.40 2.40 0 1 0 4.8 0a2.40 2.40 0 1 0 -4.8 0zM253.1 343.4a2.40 2.40 0 1 0 4.8 0a2.40 2.40 0 1 0 -4.8 0zM254.0 343.5a2.40 2.40 0 1 0 4.8 0a2.40 2.40 0 1 0 -4.8 0zM254.9 343.6a2.40 2.40 0 1 0 4.8 0a2.40 2.40 0 1 0 -4.8 0zM255.8 343.6a2.40 2.40 0 1 0 4.8 0a2.40 2.40 0 1 0 -4.8 0zM256.8 343.6a2.40 2.40 0 1 0 4.8 0a2.40 2.40 0 1 0 -4.8 0zM257.6 343.7a2.40 2.40 0 1 0 4.8 0a2.40 2.40 0 1 0 -4.8 0zM258.5 343.7a2.40 2.40 0 1 0 4.8 0a2.40 2.40 0 1 0 -4.8 0zM259.4 343.7a2.40 2.40 0 1 0 4.8 0a2.40 2.40 0 1 0 -4.8 0zM260.3 343.7a2.40 2.40 0 1 0 4.8 0a2.40 2.40 0 1 0 -4.8 0zM261.2 343.7a2.40 2.40 0 1 0 4.8 0a2.40 2.40 0 1 0 -4.8 0zM262.1 343.7a2.40 2.40 0 1 0 4.8 0a2.40 2.40 0 1 0 -4.8 0zM263.0 343.6a2.40 2.40 0 1 0 4.8 0a2.40 2.40 0 1 0 -4.8 0zM263.9 343.5a2.40 2.40 0 1 0 4.8 0a2.40 2.40 0 1 0 -4.8 0zM264.8 343.4a2.40 2.40 0 1 0 4.8 0a2.40 2.40 0 1 0 -4.8 0zM265.7 343.3a2.40 2.40 0 1 0 4.8 0a2.40 2.40 0 1 0 -4.8 0zM266.6 343.2a2.40 2.40 0 1 0 4.8 0a2.40 2.40 0 1 0 -4.8 0zM267.5 343.1a2.40 2.40 0 1 0 4.8 0a2.40 2.40 0 1 0 -4.8 0zM268.4 342.9a2.40 2.40 0 1 0 4.8 0a2.40 2.40 0 1 0 -4.8 0zM269.3 342.6a2.40 2.40 0 1 0 4.8 0a2.40 2.40 0 1 0 -4.8 0zM270.2 342.3a2.40 2.40 0 1 0 4.8 0a2.40 2.40 0 1 0 -4.8 0zM271.1 341.9a2.40 2.40 0 1 0 4.8 0a2.40 2.40 0 1 0 -4.8 0zM272.0 341.5a2.40 2.40 0 1 0 4.8 0a2.40 2.40 0 1 0 -4.8 0zM272.8 340.9a2.40 2.40 0 1 0 4.8 0a2.40 2.40 0 1 0 -4.8 0zM273.7 340.1a2.40 2.40 0 1 0 4.8 0a2.40 2.40 0 1 0 -4.8 0zM274.5 339.1a2.40 2.40 0 1 0 4.8 0a2.40 2.40 0 1 0 -4.8 0zM275.3 337.9a2.40 2.40 0 1 0 4.8 0a2.40 2.40 0 1 0 -4.8 0zM276.2 336.4a2.40 2.40 0 1 0 4.8 0a2.40 2.40 0 1 0 -4.8 0zM277.0 334.5a2.40 2.40 0 1 0 4.8 0a2.40 2.40 0 1 0 -4.8 0zM277.8 332.2a2.40 2.40 0 1 0 4.8 0a2.40 2.40 0 1 0 -4.8 0zM278.6 329.4a2.40 2.40 0 1 0 4.8 0a2.40 2.40 0 1 0 -4.8 0zM279.5 325.8a2.40 2.40 0 1 0 4.8 0a2.40 2.40 0 1 0 -4.8 0zM280.2 321.6a2.40 2.40 0 1 0 4.8 0a2.40 2.40 0 1 0 -4.8 0zM281.3 316.3a2.40 2.40 0 1 0 4.8 0a2.40 2.40 0 1 0 -4.8 0zM282.3 312.9a2.40 2.40 0 1 0 4.8 0a2.40 2.40 0 1 0 -4.8 0zM283.2 309.9a2.40 2.40 0 1 0 4.8 0a2.40 2.40 0 1 0 -4.8 0zM284.1 306.8a2.40 2.40 0 1 0 4.8 0a2.40 2.40 0 1 0 -4.8 0zM285.1 303.8a2.40 2.40 0 1 0 4.8 0a2.40 2.40 0 1 0 -4.8 0zM286.0 301.1a2.40 2.40 0 1 0 4.8 0a2.40 2.40 0 1 0 -4.8 0zM286.9 298.8a2.40 2.40 0 1 0 4.8 0a2.40 2.40 0 1 0 -4.8 0zM287.7 296.3a2.40 2.40 0 1 0 4.8 0a2.40 2.40 0 1 0 -4.8 0zM288.6 293.3a2.40 2.40 0 1 0 4.8 0a2.40 2.40 0 1 0 -4.8 0zM289.5 290.1a2.40 2.40 0 1 0 4.8 0a2.40 2.40 0 1 0 -4.8 0zM290.4 287.0a2.40 2.40 0 1 0 4.8 0a2.40 2.40 0 1 0 -4.8 0zM291.3 283.9a2.40 2.40 0 1 0 4.8 0a2.40 2.40 0 1 0 -4.8 0zM292.2 280.8a2.40 2.40 0 1 0 4.8 0a2.40 2.40 0 1 0 -4.8 0zM293.2 278.1a2.40 2.40 0 1 0 4.8 0a2.40 2.40 0 1 0 -4.8 0zM294.1 275.7a2.40 2.40 0 1 0 4.8 0a2.40 2.40 0 1 0 -4.8 0zM295.0 273.5a2.40 2.40 0 1 0 4.8 0a2.40 2.40 0 1 0 -4.8 0zM295.9 271.1a2.40 2.40 0 1 0 4.8 0a2.40 2.40 0 1 0 -4.8 0zM296.8 268.5a2.40 2.40 0 1 0 4.8 0a2.40 2.40 0 1 0 -4.8 0zM297.7 265.9a2.40 2.40 0 1 0 4.8 0a2.40 2.40 0 1 0 -4.8 0zM298.7 263.7a2.40 2.40 0 1 0 4.8 0a2.40 2.40 0 1 0 -4.8 0zM299.6 261.7a2.40 2.40 0 1 0 4.8 0a2.40 2.40 0 1 0 -4.8 0zM300.5 259.8a2.40 2.40 0 1 0 4.8 0a2.40 2.40 0 1 0 -4.8 0zM301.5 258.1a2.40 2.40 0 1 0 4.8 0a2.40 2.40 0 1 0 -4.8 0zM302.4 256.6a2.40 2.40 0 1 0 4.8 0a2.40 2.40 0 1 0 -4.8 0zM303.3 255.2a2.40 2.40 0 1 0 4.8 0a2.40 2.40 0 1 0 -4.8 0zM304.2 253.9a2.40 2.40 0 1 0 4.8 0a2.40 2.40 0 1 0 -4.8 0zM305.2 252.7a2.40 2.40 0 1 0 4.8 0a2.40 2.40 0 1 0 -4.8 0zM306.1 251.6a2.40 2.40 0 1 0 4.8 0a2.40 2.40 0 1 0 -4.8 0zM307.0 250.6a2.40 2.40 0 1 0 4.8 0a2.40 2.40 0 1 0 -4.8 0zM307.9 249.7a2.40 2.40 0 1 0 4.8 0a2.40 2.40 0 1 0 -4.8 0zM308.9 248.8a2.40 2.40 0 1 0 4.8 0a2.40 2.40 0 1 0 -4.8 0zM309.8 248.0a2.40 2.40 0 1 0 4.8 0a2.40 2.40 0 1 0 -4.8 0zM310.7 247.3a2.40 2.40 0 1 0 4.8 0a2.40 2.40 0 1 0 -4.8 0zM311.6 246.7a2.40 2.40 0 1 0 4.8 0a2.40 2.40 0 1 0 -4.8 0zM312.5 246.1a2.40 2.40 0 1 0 4.8 0a2.40 2.40 0 1 0 -4.8 0zM313.4 245.5a2.40 2.40 0 1 0 4.8 0a2.40 2.40 0 1 0 -4.8 0zM314.3 245.0a2.40 2.40 0 1 0 4.8 0a2.40 2.40 0 1 0 -4.8 0zM315.2 244.5a2.40 2.40 0 1 0 4.8 0a2.40 2.40 0 1 0 -4.8 0zM316.1 244.1a2.40 2.40 0 1 0 4.8 0a2.40 2.40 0 1 0 -4.8 0zM317.0 243.6a2.40 2.40 0 1 0 4.8 0a2.40 2.40 0 1 0 -4.8 0zM317.9 243.1a2.40 2.40 0 1 0 4.8 0a2.40 2.40 0 1 0 -4.8 0zM318.8 242.7a2.40 2.40 0 1 0 4.8 0a2.40 2.40 0 1 0 -4.8 0zM319.7 242.3a2.40 2.40 0 1 0 4.8 0a2.40 2.40 0 1 0 -4.8 0zM320.7 241.9a2.40 2.40 0 1 0 4.8 0a2.40 2.40 0 1 0 -4.8 0zM321.5 241.5a2.40 2.40 0 1 0 4.8 0a2.40 2.40 0 1 0 -4.8 0zM322.5 241.1a2.40 2.40 0 1 0 4.8 0a2.40 2.40 0 1 0 -4.8 0zM323.3 240.7a2.40 2.40 0 1 0 4.8 0a2.40 2.40 0 1 0 -4.8 0zM324.3 240.3a2.40 2.40 0 1 0 4.8 0a2.40 2.40 0 1 0 -4.8 0zM325.1 240.0a2.40 2.40 0 1 0 4.8 0a2.40 2.40 0 1 0 -4.8 0zM326.1 239.6a2.40 2.40 0 1 0 4.8 0a2.40 2.40 0 1 0 -4.8 0zM326.9 239.3a2.40 2.40 0 1 0 4.8 0a2.40 2.40 0 1 0 -4.8 0zM327.8 238.9a2.40 2.40 0 1 0 4.8 0a2.40 2.40 0 1 0 -4.8 0zM328.8 238.6a2.40 2.40 0 1 0 4.8 0a2.40 2.40 0 1 0 -4.8 0zM329.7 238.2a2.40 2.40 0 1 0 4.8 0a2.40 2.40 0 1 0 -4.8 0zM330.5 237.9a2.40 2.40 0 1 0 4.8 0a2.40 2.40 0 1 0 -4.8 0zM331.4 237.6a2.40 2.40 0 1 0 4.8 0a2.40 2.40 0 1 0 -4.8 0zM332.4 237.2a2.40 2.40 0 1 0 4.8 0a2.40 2.40 0 1 0 -4.8 0zM333.2 236.8a2.40 2.40 0 1 0 4.8 0a2.40 2.40 0 1 0 -4.8 0zM334.1 236.5a2.40 2.40 0 1 0 4.8 0a2.40 2.40 0 1 0 -4.8 0zM335.1 236.1a2.40 2.40 0 1 0 4.8 0a2.40 2.40 0 1 0 -4.8 0zM335.9 235.8a2.40 2.40 0 1 0 4.8 0a2.40 2.40 0 1 0 -4.8 0zM336.9 235.4a2.40 2.40 0 1 0 4.8 0a2.40 2.40 0 1 0 -4.8 0zM337.7 235.0a2.40 2.40 0 1 0 4.8 0a2.40 2.40 0 1 0 -4.8 0zM338.7 234.6a2.40 2.40 0 1 0 4.8 0a2.40 2.40 0 1 0 -4.8 0zM339.5 234.3a2.40 2.40 0 1 0 4.8 0a2.40 2.40 0 1 0 -4.8 0zM340.5 233.9a2.40 2.40 0 1 0 4.8 0a2.40 2.40 0 1 0 -4.8 0zM341.3 233.5a2.40 2.40 0 1 0 4.8 0a2.40 2.40 0 1 0 -4.8 0zM342.3 233.1a2.40 2.40 0 1 0 4.8 0a2.40 2.40 0 1 0 -4.8 0zM343.1 232.8a2.40 2.40 0 1 0 4.8 0a2.40 2.40 0 1 0 -4.8 0zM344.0 232.4a2.40 2.40 0 1 0 4.8 0a2.40 2.40 0 1 0 -4.8 0zM344.9 232.0a2.40 2.40 0 1 0 4.8 0a2.40 2.40 0 1 0 -4.8 0zM345.8 231.7a2.40 2.40 0 1 0 4.8 0a2.40 2.40 0 1 0 -4.8 0zM346.7 231.3a2.40 2.40 0 1 0 4.8 0a2.40 2.40 0 1 0 -4.8 0zM347.6 230.9a2.40 2.40 0 1 0 4.8 0a2.40 2.40 0 1 0 -4.8 0zM348.6 230.6a2.40 2.40 0 1 0 4.8 0a2.40 2.40 0 1 0 -4.8 0zM349.4 230.2a2.40 2.40 0 1 0 4.8 0a2.40 2.40 0 1 0 -4.8 0zM350.4 229.8a2.40 2.40 0 1 0 4.8 0a2.40 2.40 0 1 0 -4.8 0zM351.2 229.5a2.40 2.40 0 1 0 4.8 0a2.40 2.40 0 1 0 -4.8 0zM352.2 229.1a2.40 2.40 0 1 0 4.8 0a2.40 2.40 0 1 0 -4.8 0zM353.0 228.7a2.40 2.40 0 1 0 4.8 0a2.40 2.40 0 1 0 -4.8 0zM353.9 228.4a2.40 2.40 0 1 0 4.8 0a2.40 2.40 0 1 0 -4.8 0zM354.9 228.0a2.40 2.40 0 1 0 4.8 0a2.40 2.40 0 1 0 -4.8 0zM355.7 227.6a2.40 2.40 0 1 0 4.8 0a2.40 2.40 0 1 0 -4.8 0zM356.7 227.3a2.40 2.40 0 1 0 4.8 0a2.40 2.40 0 1 0 -4.8 0zM357.5 226.9a2.40 2.40 0 1 0 4.8 0a2.40 2.40 0 1 0 -4.8 0zM358.4 226.6a2.40 2.40 0 1 0 4.8 0a2.40 2.40 0 1 0 -4.8 0zM359.4 226.2a2.40 2.40 0 1 0 4.8 0a2.40 2.40 0 1 0 -4.8 0zM360.2 225.9a2.40 2.40 0 1 0 4.8 0a2.40 2.40 0 1 0 -4.8 0zM361.1 225.5a2.40 2.40 0 1 0 4.8 0a2.40 2.40 0 1 0 -4.8 0zM362.1 225.1a2.40 2.40 0 1 0 4.8 0a2.40 2.40 0 1 0 -4.8 0zM362.9 224.8a2.40 2.40 0 1 0 4.8 0a2.40 2.40 0 1 0 -4.8 0zM363.8 224.5a2.40 2.40 0 1 0 4.8 0a2.40 2.40 0 1 0 -4.8 0zM364.8 224.1a2.40 2.40 0 1 0 4.8 0a2.40 2.40 0 1 0 -4.8 0zM365.6 223.7a2.40 2.40 0 1 0 4.8 0a2.40 2.40 0 1 0 -4.8 0zM366.5 223.4a2.40 2.40 0 1 0 4.8 0a2.40 2.40 0 1 0 -4.8 0zM367.5 223.0a2.40 2.40 0 1 0 4.8 0a2.40 2.40 0 1 0 -4.8 0zM368.3 222.7a2.40 2.40 0 1 0 4.8 0a2.40 2.40 0 1 0 -4.8 0zM369.2 222.4a2.40 2.40 0 1 0 4.8 0a2.40 2.40 0 1 0 -4.8 0zM370.2 222.0a2.40 2.40 0 1 0 4.8 0a2.40 2.40 0 1 0 -4.8 0zM371.1 221.6a2.40 2.40 0 1 0 4.8 0a2.40 2.40 0 1 0 -4.8 0zM371.9 221.3a2.40 2.40 0 1 0 4.8 0a2.40 2.40 0 1 0 -4.8 0zM372.8 221.0a2.40 2.40 0 1 0 4.8 0a2.40 2.40 0 1 0 -4.8 0zM373.8 220.6a2.40 2.40 0 1 0 4.8 0a2.40 2.40 0 1 0 -4.8 0zM374.6 220.3a2.40 2.40 0 1 0 4.8 0a2.40 2.40 0 1 0 -4.8 0zM375.5 219.9a2.40 2.40 0 1 0 4.8 0a2.40 2.40 0 1 0 -4.8 0zM376.4 219.6a2.40 2.40 0 1 0 4.8 0a2.40 2.40 0 1 0 -4.8 0zM377.4 219.2a2.40 2.40 0 1 0 4.8 0a2.40 2.40 0 1 0 -4.8 0zM378.2 218.9a2.40 2.40 0 1 0 4.8 0a2.40 2.40 0 1 0 -4.8 0zM379.1 218.6a2.40 2.40 0 1 0 4.8 0a2.40 2.40 0 1 0 -4.8 0zM380.0 218.2a2.40 2.40 0 1 0 4.8 0a2.40 2.40 0 1 0 -4.8 0zM381.0 217.9a2.40 2.40 0 1 0 4.8 0a2.40 2.40 0 1 0 -4.8 0zM381.9 217.5a2.40 2.40 0 1 0 4.8 0a2.40 2.40 0 1 0 -4.8 0zM382.7 217.2a2.40 2.40 0 1 0 4.8 0a2.40 2.40 0 1 0 -4.8 0zM383.6 216.9a2.40 2.40 0 1 0 4.8 0a2.40 2.40 0 1 0 -4.8 0zM384.6 216.5a2.40 2.40 0 1 0 4.8 0a2.40 2.40 0 1 0 -4.8 0zM385.5 216.2a2.40 2.40 0 1 0 4.8 0a2.40 2.40 0 1 0 -4.8 0zM386.3 215.9a2.40 2.40 0 1 0 4.8 0a2.40 2.40 0 1 0 -4.8 0zM387.2 215.5a2.40 2.40 0 1 0 4.8 0a2.40 2.40 0 1 0 -4.8 0zM388.1 215.2a2.40 2.40 0 1 0 4.8 0a2.40 2.40 0 1 0 -4.8 0zM389.1 214.9a2.40 2.40 0 1 0 4.8 0a2.40 2.40 0 1 0 -4.8 0zM390.0 214.5a2.40 2.40 0 1 0 4.8 0a2.40 2.40 0 1 0 -4.8 0zM390.9 214.2a2.40 2.40 0 1 0 4.8 0a2.40 2.40 0 1 0 -4.8 0zM391.7 213.9a2.40 2.40 0 1 0 4.8 0a2.40 2.40 0 1 0 -4.8 0zM392.6 213.6a2.40 2.40 0 1 0 4.8 0a2.40 2.40 0 1 0 -4.8 0zM393.5 213.2a2.40 2.40 0 1 0 4.8 0a2.40 2.40 0 1 0 -4.8 0zM394.4 212.9a2.40 2.40 0 1 0 4.8 0a2.40 2.40 0 1 0 -4.8 0zM395.4 212.6a2.40 2.40 0 1 0 4.8 0a2.40 2.40 0 1 0 -4.8 0zM396.3 212.3a2.40 2.40 0 1 0 4.8 0a2.40 2.40 0 1 0 -4.8 0zM397.2 212.0a2.40 2.40 0 1 0 4.8 0a2.40 2.40 0 1 0 -4.8 0zM398.1 211.6a2.40 2.40 0 1 0 4.8 0a2.40 2.40 0 1 0 -4.8 0zM399.0 211.3a2.40 2.40 0 1 0 4.8 0a2.40 2.40 0 1 0 -4.8 0zM399.8 211.0a2.40 2.40 0 1 0 4.8 0a2.40 2.40 0 1 0 -4.8 0zM400.7 210.7a2.40 2.40 0 1 0 4.8 0a2.40 2.40 0 1 0 -4.8 0zM401.6 210.4a2.40 2.40 0 1 0 4.8 0a2.40 2.40 0 1 0 -4.8 0zM402.5 210.0a2.40 2.40 0 1 0 4.8 0a2.40 2.40 0 1 0 -4.8 0zM403.5 209.7a2.40 2.40 0 1 0 4.8 0a2.40 2.40 0 1 0 -4.8 0zM404.4 209.4a2.40 2.40 0 1 0 4.8 0a2.40 2.40 0 1 0 -4.8 0zM405.3 209.1a2.40 2.40 0 1 0 4.8 0a2.40 2.40 0 1 0 -4.8 0zM406.2 208.7a2.40 2.40 0 1 0 4.8 0a2.40 2.40 0 1 0 -4.8 0zM407.0 208.4a2.40 2.40 0 1 0 4.8 0a2.40 2.40 0 1 0 -4.8 0zM407.9 208.1a2.40 2.40 0 1 0 4.8 0a2.40 2.40 0 1 0 -4.8 0zM408.9 207.7a2.40 2.40 0 1 0 4.8 0a2.40 2.40 0 1 0 -4.8 0zM409.8 207.4a2.40 2.40 0 1 0 4.8 0a2.40 2.40 0 1 0 -4.8 0zM410.6 207.1a2.40 2.40 0 1 0 4.8 0a2.40 2.40 0 1 0 -4.8 0zM411.5 206.7a2.40 2.40 0 1 0 4.8 0a2.40 2.40 0 1 0 -4.8 0zM412.4 206.4a2.40 2.40 0 1 0 4.8 0a2.40 2.40 0 1 0 -4.8 0zM413.4 206.0a2.40 2.40 0 1 0 4.8 0a2.40 2.40 0 1 0 -4.8 0zM414.2 205.7a2.40 2.40 0 1 0 4.8 0a2.40 2.40 0 1 0 -4.8 0zM415.1 205.3a2.40 2.40 0 1 0 4.8 0a2.40 2.40 0 1 0 -4.8 0zM416.1 205.0a2.40 2.40 0 1 0 4.8 0a2.40 2.40 0 1 0 -4.8 0zM417.0 204.6a2.40 2.40 0 1 0 4.8 0a2.40 2.40 0 1 0 -4.8 0zM417.8 204.3a2.40 2.40 0 1 0 4.8 0a2.40 2.40 0 1 0 -4.8 0zM418.7 204.0a2.40 2.40 0 1 0 4.8 0a2.40 2.40 0 1 0 -4.8 0zM419.7 203.6a2.40 2.40 0 1 0 4.8 0a2.40 2.40 0 1 0 -4.8 0zM420.5 203.3a2.40 2.40 0 1 0 4.8 0a2.40 2.40 0 1 0 -4.8 0zM421.4 202.9a2.40 2.40 0 1 0 4.8 0a2.40 2.40 0 1 0 -4.8 0zM422.3 202.6a2.40 2.40 0 1 0 4.8 0a2.40 2.40 0 1 0 -4.8 0zM423.3 202.3a2.40 2.40 0 1 0 4.8 0a2.40 2.40 0 1 0 -4.8 0zM424.2 201.9a2.40 2.40 0 1 0 4.8 0a2.40 2.40 0 1 0 -4.8 0zM425.0 201.6a2.40 2.40 0 1 0 4.8 0a2.40 2.40 0 1 0 -4.8 0zM425.9 201.3a2.40 2.40 0 1 0 4.8 0a2.40 2.40 0 1 0 -4.8 0zM426.8 200.9a2.40 2.40 0 1 0 4.8 0a2.40 2.40 0 1 0 -4.8 0zM427.7 200.6a2.40 2.40 0 1 0 4.8 0a2.40 2.40 0 1 0 -4.8 0zM428.7 200.3a2.40 2.40 0 1 0 4.8 0a2.40 2.40 0 1 0 -4.8 0zM429.6 200.0a2.40 2.40 0 1 0 4.8 0a2.40 2.40 0 1 0 -4.8 0zM430.5 199.6a2.40 2.40 0 1 0 4.8 0a2.40 2.40 0 1 0 -4.8 0zM431.3 199.3a2.40 2.40 0 1 0 4.8 0a2.40 2.40 0 1 0 -4.8 0zM432.2 199.0a2.40 2.40 0 1 0 4.8 0a2.40 2.40 0 1 0 -4.8 0zM433.1 198.7a2.40 2.40 0 1 0 4.8 0a2.40 2.40 0 1 0 -4.8 0zM434.0 198.3a2.40 2.40 0 1 0 4.8 0a2.40 2.40 0 1 0 -4.8 0zM435.0 198.0a2.40 2.40 0 1 0 4.8 0a2.40 2.40 0 1 0 -4.8 0zM435.9 197.7a2.40 2.40 0 1 0 4.8 0a2.40 2.40 0 1 0 -4.8 0zM436.8 197.4a2.40 2.40 0 1 0 4.8 0a2.40 2.40 0 1 0 -4.8 0zM437.6 197.0a2.40 2.40 0 1 0 4.8 0a2.40 2.40 0 1 0 -4.8 0zM438.5 196.7a2.40 2.40 0 1 0 4.8 0a2.40 2.40 0 1 0 -4.8 0zM439.4 196.4a2.40 2.40 0 1 0 4.8 0a2.40 2.40 0 1 0 -4.8 0zM440.4 196.0a2.40 2.40 0 1 0 4.8 0a2.40 2.40 0 1 0 -4.8 0zM441.3 195.7a2.40 2.40 0 1 0 4.8 0a2.40 2.40 0 1 0 -4.8 0zM442.2 195.4a2.40 2.40 0 1 0 4.8 0a2.40 2.40 0 1 0 -4.8 0zM443.1 195.1a2.40 2.40 0 1 0 4.8 0a2.40 2.40 0 1 0 -4.8 0zM443.9 194.7a2.40 2.40 0 1 0 4.8 0a2.40 2.40 0 1 0 -4.8 0zM444.8 194.4a2.40 2.40 0 1 0 4.8 0a2.40 2.40 0 1 0 -4.8 0zM445.7 194.1a2.40 2.40 0 1 0 4.8 0a2.40 2.40 0 1 0 -4.8 0zM446.7 193.7a2.40 2.40 0 1 0 4.8 0a2.40 2.40 0 1 0 -4.8 0zM447.6 193.4a2.40 2.40 0 1 0 4.8 0a2.40 2.40 0 1 0 -4.8 0zM448.4 193.1a2.40 2.40 0 1 0 4.8 0a2.40 2.40 0 1 0 -4.8 0zM449.3 192.7a2.40 2.40 0 1 0 4.8 0a2.40 2.40 0 1 0 -4.8 0zM450.3 192.4a2.40 2.40 0 1 0 4.8 0a2.40 2.40 0 1 0 -4.8 0zM451.2 192.0a2.40 2.40 0 1 0 4.8 0a2.40 2.40 0 1 0 -4.8 0zM452.0 191.7a2.40 2.40 0 1 0 4.8 0a2.40 2.40 0 1 0 -4.8 0zM453.0 191.3a2.40 2.40 0 1 0 4.8 0a2.40 2.40 0 1 0 -4.8 0zM453.8 191.0a2.40 2.40 0 1 0 4.8 0a2.40 2.40 0 1 0 -4.8 0zM454.7 190.6a2.40 2.40 0 1 0 4.8 0a2.40 2.40 0 1 0 -4.8 0zM455.7 190.2a2.40 2.40 0 1 0 4.8 0a2.40 2.40 0 1 0 -4.8 0zM456.5 189.9a2.40 2.40 0 1 0 4.8 0a2.40 2.40 0 1 0 -4.8 0zM457.5 189.5a2.40 2.40 0 1 0 4.8 0a2.40 2.40 0 1 0 -4.8 0zM458.3 189.1a2.40 2.40 0 1 0 4.8 0a2.40 2.40 0 1 0 -4.8 0zM459.2 188.7a2.40 2.40 0 1 0 4.8 0a2.40 2.40 0 1 0 -4.8 0zM460.1 188.3a2.40 2.40 0 1 0 4.8 0a2.40 2.40 0 1 0 -4.8 0zM461.0 187.9a2.40 2.40 0 1 0 4.8 0a2.40 2.40 0 1 0 -4.8 0zM462.0 187.5a2.40 2.40 0 1 0 4.8 0a2.40 2.40 0 1 0 -4.8 0zM462.8 187.2a2.40 2.40 0 1 0 4.8 0a2.40 2.40 0 1 0 -4.8 0zM463.7 186.8a2.40 2.40 0 1 0 4.8 0a2.40 2.40 0 1 0 -4.8 0zM464.7 186.4a2.40 2.40 0 1 0 4.8 0a2.40 2.40 0 1 0 -4.8 0zM465.5 186.0a2.40 2.40 0 1 0 4.8 0a2.40 2.40 0 1 0 -4.8 0zM466.4 185.5a2.40 2.40 0 1 0 4.8 0a2.40 2.40 0 1 0 -4.8 0zM467.3 185.1a2.40 2.40 0 1 0 4.8 0a2.40 2.40 0 1 0 -4.8 0zM468.3 184.7a2.40 2.40 0 1 0 4.8 0a2.40 2.40 0 1 0 -4.8 0zM469.1 184.3a2.40 2.40 0 1 0 4.8 0a2.40 2.40 0 1 0 -4.8 0zM470.0 183.9a2.40 2.40 0 1 0 4.8 0a2.40 2.40 0 1 0 -4.8 0zM470.9 183.5a2.40 2.40 0 1 0 4.8 0a2.40 2.40 0 1 0 -4.8 0zM471.8 183.0a2.40 2.40 0 1 0 4.8 0a2.40 2.40 0 1 0 -4.8 0zM472.7 182.6a2.40 2.40 0 1 0 4.8 0a2.40 2.40 0 1 0 -4.8 0zM473.6 182.2a2.40 2.40 0 1 0 4.8 0a2.40 2.40 0 1 0 -4.8 0zM474.5 181.7a2.40 2.40 0 1 0 4.8 0a2.40 2.40 0 1 0 -4.8 0zM475.4 181.3a2.40 2.40 0 1 0 4.8 0a2.40 2.40 0 1 0 -4.8 0zM476.3 180.9a2.40 2.40 0 1 0 4.8 0a2.40 2.40 0 1 0 -4.8 0zM477.2 180.5a2.40 2.40 0 1 0 4.8 0a2.40 2.40 0 1 0 -4.8 0zM478.1 180.0a2.40 2.40 0 1 0 4.8 0a2.40 2.40 0 1 0 -4.8 0zM479.0 179.6a2.40 2.40 0 1 0 4.8 0a2.40 2.40 0 1 0 -4.8 0zM479.9 179.1a2.40 2.40 0 1 0 4.8 0a2.40 2.40 0 1 0 -4.8 0zM480.8 178.7a2.40 2.40 0 1 0 4.8 0a2.40 2.40 0 1 0 -4.8 0zM481.7 178.2a2.40 2.40 0 1 0 4.8 0a2.40 2.40 0 1 0 -4.8 0zM482.6 177.8a2.40 2.40 0 1 0 4.8 0a2.40 2.40 0 1 0 -4.8 0zM483.5 177.3a2.40 2.40 0 1 0 4.8 0a2.40 2.40 0 1 0 -4.8 0zM484.4 176.8a2.40 2.40 0 1 0 4.8 0a2.40 2.40 0 1 0 -4.8 0zM485.3 176.3a2.40 2.40 0 1 0 4.8 0a2.40 2.40 0 1 0 -4.8 0zM486.2 175.8a2.40 2.40 0 1 0 4.8 0a2.40 2.40 0 1 0 -4.8 0zM487.1 175.3a2.40 2.40 0 1 0 4.8 0a2.40 2.40 0 1 0 -4.8 0zM488.0 174.8a2.40 2.40 0 1 0 4.8 0a2.40 2.40 0 1 0 -4.8 0zM488.9 174.3a2.40 2.40 0 1 0 4.8 0a2.40 2.40 0 1 0 -4.8 0zM489.8 173.7a2.40 2.40 0 1 0 4.8 0a2.40 2.40 0 1 0 -4.8 0zM490.7 173.1a2.40 2.40 0 1 0 4.8 0a2.40 2.40 0 1 0 -4.8 0zM491.6 172.5a2.40 2.40 0 1 0 4.8 0a2.40 2.40 0 1 0 -4.8 0zM492.5 171.9a2.40 2.40 0 1 0 4.8 0a2.40 2.40 0 1 0 -4.8 0zM493.4 171.3a2.40 2.40 0 1 0 4.8 0a2.40 2.40 0 1 0 -4.8 0zM494.3 170.6a2.40 2.40 0 1 0 4.8 0a2.40 2.40 0 1 0 -4.8 0zM495.2 169.9a2.40 2.40 0 1 0 4.8 0a2.40 2.40 0 1 0 -4.8 0zM496.1 169.2a2.40 2.40 0 1 0 4.8 0a2.40 2.40 0 1 0 -4.8 0zM497.0 168.5a2.40 2.40 0 1 0 4.8 0a2.40 2.40 0 1 0 -4.8 0zM497.9 167.8a2.40 2.40 0 1 0 4.8 0a2.40 2.40 0 1 0 -4.8 0zM498.8 167.0a2.40 2.40 0 1 0 4.8 0a2.40 2.40 0 1 0 -4.8 0zM499.6 166.3a2.40 2.40 0 1 0 4.8 0a2.40 2.40 0 1 0 -4.8 0zM500.5 165.5a2.40 2.40 0 1 0 4.8 0a2.40 2.40 0 1 0 -4.8 0zM501.4 164.6a2.40 2.40 0 1 0 4.8 0a2.40 2.40 0 1 0 -4.8 0zM501.6 164.5a2.40 2.40 0 1 0 4.8 0a2.40 2.40 0 1 0 -4.8 0zM130.8 102.1a2.40 2.40 0 1 0 4.8 0a2.40 2.40 0 1 0 -4.8 0zM131.2 111.8a2.40 2.40 0 1 0 4.8 0a2.40 2.40 0 1 0 -4.8 0zM132.4 127.7a2.40 2.40 0 1 0 4.8 0a2.40 2.40 0 1 0 -4.8 0zM133.1 134.1a2.40 2.40 0 1 0 4.8 0a2.40 2.40 0 1 0 -4.8 0zM134.7 152.3a2.40 2.40 0 1 0 4.8 0a2.40 2.40 0 1 0 -4.8 0zM135.8 160.9a2.40 2.40 0 1 0 4.8 0a2.40 2.40 0 1 0 -4.8 0zM137.0 170.0a2.40 2.40 0 1 0 4.8 0a2.40 2.40 0 1 0 -4.8 0zM138.1 175.5a2.40 2.40 0 1 0 4.8 0a2.40 2.40 0 1 0 -4.8 0zM139.1 183.2a2.40 2.40 0 1 0 4.8 0a2.40 2.40 0 1 0 -4.8 0zM140.4 190.0a2.40 2.40 0 1 0 4.8 0a2.40 2.40 0 1 0 -4.8 0zM141.2 194.5a2.40 2.40 0 1 0 4.8 0a2.40 2.40 0 1 0 -4.8 0zM142.9 200.5a2.40 2.40 0 1 0 4.8 0a2.40 2.40 0 1 0 -4.8 0zM144.8 204.0a2.40 2.40 0 1 0 4.8 0a2.40 2.40 0 1 0 -4.8 0zM146.6 207.5a2.40 2.40 0 1 0 4.8 0a2.40 2.40 0 1 0 -4.8 0zM148.2 212.5a2.40 2.40 0 1 0 4.8 0a2.40 2.40 0 1 0 -4.8 0zM149.5 217.5a2.40 2.40 0 1 0 4.8 0a2.40 2.40 0 1 0 -4.8 0zM150.8 221.8a2.40 2.40 0 1 0 4.8 0a2.40 2.40 0 1 0 -4.8 0zM152.6 226.0a2.40 2.40 0 1 0 4.8 0a2.40 2.40 0 1 0 -4.8 0zM154.8 230.4a2.40 2.40 0 1 0 4.8 0a2.40 2.40 0 1 0 -4.8 0zM157.2 233.8a2.40 2.40 0 1 0 4.8 0a2.40 2.40 0 1 0 -4.8 0zM158.9 237.1a2.40 2.40 0 1 0 4.8 0a2.40 2.40 0 1 0 -4.8 0zM159.8 238.3a2.40 2.40 0 1 0 4.8 0a2.40 2.40 0 1 0 -4.8 0zM160.7 239.5a2.40 2.40 0 1 0 4.8 0a2.40 2.40 0 1 0 -4.8 0zM161.6 240.6a2.40 2.40 0 1 0 4.8 0a2.40 2.40 0 1 0 -4.8 0zM162.5 241.7a2.40 2.40 0 1 0 4.8 0a2.40 2.40 0 1 0 -4.8 0zM163.4 242.7a2.40 2.40 0 1 0 4.8 0a2.40 2.40 0 1 0 -4.8 0zM164.3 243.8a2.40 2.40 0 1 0 4.8 0a2.40 2.40 0 1 0 -4.8 0zM165.3 244.8a2.40 2.40 0 1 0 4.8 0a2.40 2.40 0 1 0 -4.8 0zM166.1 245.7a2.40 2.40 0 1 0 4.8 0a2.40 2.40 0 1 0 -4.8 0zM167.1 246.6a2.40 2.40 0 1 0 4.8 0a2.40 2.40 0 1 0 -4.8 0zM168.0 247.5a2.40 2.40 0 1 0 4.8 0a2.40 2.40 0 1 0 -4.8 0zM168.9 248.3a2.40 2.40 0 1 0 4.8 0a2.40 2.40 0 1 0 -4.8 0zM169.8 249.2a2.40 2.40 0 1 0 4.8 0a2.40 2.40 0 1 0 -4.8 0zM170.7 249.9a2.40 2.40 0 1 0 4.8 0a2.40 2.40 0 1 0 -4.8 0zM171.6 250.7a2.40 2.40 0 1 0 4.8 0a2.40 2.40 0 1 0 -4.8 0zM172.5 251.4a2.40 2.40 0 1 0 4.8 0a2.40 2.40 0 1 0 -4.8 0zM173.4 252.1a2.40 2.40 0 1 0 4.8 0a2.40 2.40 0 1 0 -4.8 0zM174.3 252.8a2.40 2.40 0 1 0 4.8 0a2.40 2.40 0 1 0 -4.8 0zM175.2 253.5a2.40 2.40 0 1 0 4.8 0a2.40 2.40 0 1 0 -4.8 0zM176.1 254.2a2.40 2.40 0 1 0 4.8 0a2.40 2.40 0 1 0 -4.8 0zM177.0 254.8a2.40 2.40 0 1 0 4.8 0a2.40 2.40 0 1 0 -4.8 0zM177.9 255.4a2.40 2.40 0 1 0 4.8 0a2.40 2.40 0 1 0 -4.8 0zM178.8 256.0a2.40 2.40 0 1 0 4.8 0a2.40 2.40 0 1 0 -4.8 0zM179.8 256.6a2.40 2.40 0 1 0 4.8 0a2.40 2.40 0 1 0 -4.8 0zM180.6 257.2a2.40 2.40 0 1 0 4.8 0a2.40 2.40 0 1 0 -4.8 0zM181.6 257.8a2.40 2.40 0 1 0 4.8 0a2.40 2.40 0 1 0 -4.8 0zM182.4 258.3a2.40 2.40 0 1 0 4.8 0a2.40 2.40 0 1 0 -4.8 0zM183.4 258.8a2.40 2.40 0 1 0 4.8 0a2.40 2.40 0 1 0 -4.8 0zM184.3 259.3a2.40 2.40 0 1 0 4.8 0a2.40 2.40 0 1 0 -4.8 0zM185.2 259.7a2.40 2.40 0 1 0 4.8 0a2.40 2.40 0 1 0 -4.8 0zM186.1 260.1a2.40 2.40 0 1 0 4.8 0a2.40 2.40 0 1 0 -4.8 0zM187.0 260.5a2.40 2.40 0 1 0 4.8 0a2.40 2.40 0 1 0 -4.8 0zM187.9 260.8a2.40 2.40 0 1 0 4.8 0a2.40 2.40 0 1 0 -4.8 0zM188.8 261.2a2.40 2.40 0 1 0 4.8 0a2.40 2.40 0 1 0 -4.8 0zM189.7 261.5a2.40 2.40 0 1 0 4.8 0a2.40 2.40 0 1 0 -4.8 0zM190.6 261.8a2.40 2.40 0 1 0 4.8 0a2.40 2.40 0 1 0 -4.8 0zM191.5 262.1a2.40 2.40 0 1 0 4.8 0a2.40 2.40 0 1 0 -4.8 0zM192.4 262.4a2.40 2.40 0 1 0 4.8 0a2.40 2.40 0 1 0 -4.8 0zM193.3 262.6a2.40 2.40 0 1 0 4.8 0a2.40 2.40 0 1 0 -4.8 0zM194.2 262.9a2.40 2.40 0 1 0 4.8 0a2.40 2.40 0 1 0 -4.8 0zM195.1 263.1a2.40 2.40 0 1 0 4.8 0a2.40 2.40 0 1 0 -4.8 0zM196.0 263.3a2.40 2.40 0 1 0 4.8 0a2.40 2.40 0 1 0 -4.8 0zM196.9 263.5a2.40 2.40 0 1 0 4.8 0a2.40 2.40 0 1 0 -4.8 0zM197.8 263.7a2.40 2.40 0 1 0 4.8 0a2.40 2.40 0 1 0 -4.8 0zM198.7 263.8a2.40 2.40 0 1 0 4.8 0a2.40 2.40 0 1 0 -4.8 0zM199.6 264.0a2.40 2.40 0 1 0 4.8 0a2.40 2.40 0 1 0 -4.8 0zM200.5 264.2a2.40 2.40 0 1 0 4.8 0a2.40 2.40 0 1 0 -4.8 0zM201.4 264.3a2.40 2.40 0 1 0 4.8 0a2.40 2.40 0 1 0 -4.8 0zM202.3 264.5a2.40 2.40 0 1 0 4.8 0a2.40 2.40 0 1 0 -4.8 0zM203.2 264.6a2.40 2.40 0 1 0 4.8 0a2.40 2.40 0 1 0 -4.8 0zM204.1 264.7a2.40 2.40 0 1 0 4.8 0a2.40 2.40 0 1 0 -4.8 0zM205.0 264.8a2.40 2.40 0 1 0 4.8 0a2.40 2.40 0 1 0 -4.8 0zM205.9 264.9a2.40 2.40 0 1 0 4.8 0a2.40 2.40 0 1 0 -4.8 0zM206.8 265.0a2.40 2.40 0 1 0 4.8 0a2.40 2.40 0 1 0 -4.8 0zM207.7 265.1a2.40 2.40 0 1 0 4.8 0a2.40 2.40 0 1 0 -4.8 0zM208.6 265.2a2.40 2.40 0 1 0 4.8 0a2.40 2.40 0 1 0 -4.8 0zM209.5 265.3a2.40 2.40 0 1 0 4.8 0a2.40 2.40 0 1 0 -4.8 0zM210.4 265.4a2.40 2.40 0 1 0 4.8 0a2.40 2.40 0 1 0 -4.8 0zM211.3 265.5a2.40 2.40 0 1 0 4.8 0a2.40 2.40 0 1 0 -4.8 0zM212.2 265.5a2.40 2.40 0 1 0 4.8 0a2.40 2.40 0 1 0 -4.8 0zM213.1 265.6a2.40 2.40 0 1 0 4.8 0a2.40 2.40 0 1 0 -4.8 0zM214.0 265.6a2.40 2.40 0 1 0 4.8 0a2.40 2.40 0 1 0 -4.8 0zM214.9 265.6a2.40 2.40 0 1 0 4.8 0a2.40 2.40 0 1 0 -4.8 0zM215.8 265.6a2.40 2.40 0 1 0 4.8 0a2.40 2.40 0 1 0 -4.8 0zM216.7 265.6a2.40 2.40 0 1 0 4.8 0a2.40 2.40 0 1 0 -4.8 0zM217.6 265.6a2.40 2.40 0 1 0 4.8 0a2.40 2.40 0 1 0 -4.8 0zM218.5 265.5a2.40 2.40 0 1 0 4.8 0a2.40 2.40 0 1 0 -4.8 0zM219.4 265.5a2.40 2.40 0 1 0 4.8 0a2.40 2.40 0 1 0 -4.8 0zM220.3 265.5a2.40 2.40 0 1 0 4.8 0a2.40 2.40 0 1 0 -4.8 0zM221.2 265.4a2.40 2.40 0 1 0 4.8 0a2.40 2.40 0 1 0 -4.8 0zM222.1 265.4a2.40 2.40 0 1 0 4.8 0a2.40 2.40 0 1 0 -4.8 0zM223.0 265.3a2.40 2.40 0 1 0 4.8 0a2.40 2.40 0 1 0 -4.8 0zM223.9 265.2a2.40 2.40 0 1 0 4.8 0a2.40 2.40 0 1 0 -4.8 0zM224.8 265.1a2.40 2.40 0 1 0 4.8 0a2.40 2.40 0 1 0 -4.8 0zM225.7 265.0a2.40 2.40 0 1 0 4.8 0a2.40 2.40 0 1 0 -4.8 0zM226.6 264.9a2.40 2.40 0 1 0 4.8 0a2.40 2.40 0 1 0 -4.8 0zM227.5 264.7a2.40 2.40 0 1 0 4.8 0a2.40 2.40 0 1 0 -4.8 0zM228.4 264.5a2.40 2.40 0 1 0 4.8 0a2.40 2.40 0 1 0 -4.8 0zM229.3 264.3a2.40 2.40 0 1 0 4.8 0a2.40 2.40 0 1 0 -4.8 0zM230.2 264.1a2.40 2.40 0 1 0 4.8 0a2.40 2.40 0 1 0 -4.8 0zM231.1 263.9a2.40 2.40 0 1 0 4.8 0a2.40 2.40 0 1 0 -4.8 0zM232.0 263.7a2.40 2.40 0 1 0 4.8 0a2.40 2.40 0 1 0 -4.8 0zM232.9 263.5a2.40 2.40 0 1 0 4.8 0a2.40 2.40 0 1 0 -4.8 0zM233.8 263.3a2.40 2.40 0 1 0 4.8 0a2.40 2.40 0 1 0 -4.8 0zM234.7 263.0a2.40 2.40 0 1 0 4.8 0a2.40 2.40 0 1 0 -4.8 0zM235.6 262.8a2.40 2.40 0 1 0 4.8 0a2.40 2.40 0 1 0 -4.8 0zM236.5 262.6a2.40 2.40 0 1 0 4.8 0a2.40 2.40 0 1 0 -4.8 0zM237.4 262.3a2.40 2.40 0 1 0 4.8 0a2.40 2.40 0 1 0 -4.8 0zM238.3 262.1a2.40 2.40 0 1 0 4.8 0a2.40 2.40 0 1 0 -4.8 0zM239.2 261.8a2.40 2.40 0 1 0 4.8 0a2.40 2.40 0 1 0 -4.8 0zM240.1 261.5a2.40 2.40 0 1 0 4.8 0a2.40 2.40 0 1 0 -4.8 0zM241.0 261.3a2.40 2.40 0 1 0 4.8 0a2.40 2.40 0 1 0 -4.8 0zM241.9 261.0a2.40 2.40 0 1 0 4.8 0a2.40 2.40 0 1 0 -4.8 0zM242.8 260.7a2.40 2.40 0 1 0 4.8 0a2.40 2.40 0 1 0 -4.8 0zM243.7 260.4a2.40 2.40 0 1 0 4.8 0a2.40 2.40 0 1 0 -4.8 0zM244.6 260.1a2.40 2.40 0 1 0 4.8 0a2.40 2.40 0 1 0 -4.8 0zM245.5 259.8a2.40 2.40 0 1 0 4.8 0a2.40 2.40 0 1 0 -4.8 0zM246.4 259.5a2.40 2.40 0 1 0 4.8 0a2.40 2.40 0 1 0 -4.8 0zM247.3 259.2a2.40 2.40 0 1 0 4.8 0a2.40 2.40 0 1 0 -4.8 0zM248.2 259.0a2.40 2.40 0 1 0 4.8 0a2.40 2.40 0 1 0 -4.8 0zM249.1 258.8a2.40 2.40 0 1 0 4.8 0a2.40 2.40 0 1 0 -4.8 0zM250.0 258.5a2.40 2.40 0 1 0 4.8 0a2.40 2.40 0 1 0 -4.8 0zM250.9 258.3a2.40 2.40 0 1 0 4.8 0a2.40 2.40 0 1 0 -4.8 0zM251.8 258.0a2.40 2.40 0 1 0 4.8 0a2.40 2.40 0 1 0 -4.8 0zM252.7 257.8a2.40 2.40 0 1 0 4.8 0a2.40 2.40 0 1 0 -4.8 0zM253.6 257.6a2.40 2.40 0 1 0 4.8 0a2.40 2.40 0 1 0 -4.8 0zM254.5 257.3a2.40 2.40 0 1 0 4.8 0a2.40 2.40 0 1 0 -4.8 0zM255.4 257.1a2.40 2.40 0 1 0 4.8 0a2.40 2.40 0 1 0 -4.8 0zM256.3 256.8a2.40 2.40 0 1 0 4.8 0a2.40 2.40 0 1 0 -4.8 0zM257.2 256.6a2.40 2.40 0 1 0 4.8 0a2.40 2.40 0 1 0 -4.8 0zM258.1 256.3a2.40 2.40 0 1 0 4.8 0a2.40 2.40 0 1 0 -4.8 0zM259.0 256.0a2.40 2.40 0 1 0 4.8 0a2.40 2.40 0 1 0 -4.8 0zM259.9 255.8a2.40 2.40 0 1 0 4.8 0a2.40 2.40 0 1 0 -4.8 0zM260.8 255.5a2.40 2.40 0 1 0 4.8 0a2.40 2.40 0 1 0 -4.8 0zM261.7 255.2a2.40 2.40 0 1 0 4.8 0a2.40 2.40 0 1 0 -4.8 0zM262.6 255.0a2.40 2.40 0 1 0 4.8 0a2.40 2.40 0 1 0 -4.8 0zM263.5 254.7a2.40 2.40 0 1 0 4.8 0a2.40 2.40 0 1 0 -4.8 0zM264.4 254.4a2.40 2.40 0 1 0 4.8 0a2.40 2.40 0 1 0 -4.8 0zM265.3 254.1a2.40 2.40 0 1 0 4.8 0a2.40 2.40 0 1 0 -4.8 0zM266.2 253.8a2.40 2.40 0 1 0 4.8 0a2.40 2.40 0 1 0 -4.8 0zM267.1 253.5a2.40 2.40 0 1 0 4.8 0a2.40 2.40 0 1 0 -4.8 0zM268.0 253.2a2.40 2.40 0 1 0 4.8 0a2.40 2.40 0 1 0 -4.8 0zM268.9 252.9a2.40 2.40 0 1 0 4.8 0a2.40 2.40 0 1 0 -4.8 0zM269.8 252.6a2.40 2.40 0 1 0 4.8 0a2.40 2.40 0 1 0 -4.8 0zM270.7 252.2a2.40 2.40 0 1 0 4.8 0a2.40 2.40 0 1 0 -4.8 0zM271.6 251.9a2.40 2.40 0 1 0 4.8 0a2.40 2.40 0 1 0 -4.8 0zM272.5 251.6a2.40 2.40 0 1 0 4.8 0a2.40 2.40 0 1 0 -4.8 0zM273.4 251.3a2.40 2.40 0 1 0 4.8 0a2.40 2.40 0 1 0 -4.8 0zM274.3 250.9a2.40 2.40 0 1 0 4.8 0a2.40 2.40 0 1 0 -4.8 0zM275.2 250.6a2.40 2.40 0 1 0 4.8 0a2.40 2.40 0 1 0 -4.8 0zM276.1 250.3a2.40 2.40 0 1 0 4.8 0a2.40 2.40 0 1 0 -4.8 0zM277.0 250.0a2.40 2.40 0 1 0 4.8 0a2.40 2.40 0 1 0 -4.8 0zM277.9 249.7a2.40 2.40 0 1 0 4.8 0a2.40 2.40 0 1 0 -4.8 0zM278.8 249.3a2.40 2.40 0 1 0 4.8 0a2.40 2.40 0 1 0 -4.8 0zM279.7 249.0a2.40 2.40 0 1 0 4.8 0a2.40 2.40 0 1 0 -4.8 0zM280.6 248.6a2.40 2.40 0 1 0 4.8 0a2.40 2.40 0 1 0 -4.8 0zM281.5 248.3a2.40 2.40 0 1 0 4.8 0a2.40 2.40 0 1 0 -4.8 0zM282.4 247.9a2.40 2.40 0 1 0 4.8 0a2.40 2.40 0 1 0 -4.8 0zM283.3 247.5a2.40 2.40 0 1 0 4.8 0a2.40 2.40 0 1 0 -4.8 0zM284.2 247.2a2.40 2.40 0 1 0 4.8 0a2.40 2.40 0 1 0 -4.8 0zM285.1 246.8a2.40 2.40 0 1 0 4.8 0a2.40 2.40 0 1 0 -4.8 0zM286.0 246.5a2.40 2.40 0 1 0 4.8 0a2.40 2.40 0 1 0 -4.8 0zM286.9 246.1a2.40 2.40 0 1 0 4.8 0a2.40 2.40 0 1 0 -4.8 0zM287.8 245.7a2.40 2.40 0 1 0 4.8 0a2.40 2.40 0 1 0 -4.8 0zM288.7 245.4a2.40 2.40 0 1 0 4.8 0a2.40 2.40 0 1 0 -4.8 0zM289.6 245.0a2.40 2.40 0 1 0 4.8 0a2.40 2.40 0 1 0 -4.8 0zM290.5 244.7a2.40 2.40 0 1 0 4.8 0a2.40 2.40 0 1 0 -4.8 0zM291.4 244.3a2.40 2.40 0 1 0 4.8 0a2.40 2.40 0 1 0 -4.8 0zM292.3 244.0a2.40 2.40 0 1 0 4.8 0a2.40 2.40 0 1 0 -4.8 0zM293.2 243.6a2.40 2.40 0 1 0 4.8 0a2.40 2.40 0 1 0 -4.8 0zM294.1 243.3a2.40 2.40 0 1 0 4.8 0a2.40 2.40 0 1 0 -4.8 0zM295.0 242.9a2.40 2.40 0 1 0 4.8 0a2.40 2.40 0 1 0 -4.8 0zM295.9 242.6a2.40 2.40 0 1 0 4.8 0a2.40 2.40 0 1 0 -4.8 0zM296.8 242.2a2.40 2.40 0 1 0 4.8 0a2.40 2.40 0 1 0 -4.8 0zM297.7 241.9a2.40 2.40 0 1 0 4.8 0a2.40 2.40 0 1 0 -4.8 0zM298.6 241.6a2.40 2.40 0 1 0 4.8 0a2.40 2.40 0 1 0 -4.8 0zM299.5 241.3a2.40 2.40 0 1 0 4.8 0a2.40 2.40 0 1 0 -4.8 0zM300.4 241.0a2.40 2.40 0 1 0 4.8 0a2.40 2.40 0 1 0 -4.8 0zM301.3 240.7a2.40 2.40 0 1 0 4.8 0a2.40 2.40 0 1 0 -4.8 0zM302.2 240.4a2.40 2.40 0 1 0 4.8 0a2.40 2.40 0 1 0 -4.8 0zM303.1 240.1a2.40 2.40 0 1 0 4.8 0a2.40 2.40 0 1 0 -4.8 0zM304.0 239.8a2.40 2.40 0 1 0 4.8 0a2.40 2.40 0 1 0 -4.8 0zM304.9 239.5a2.40 2.40 0 1 0 4.8 0a2.40 2.40 0 1 0 -4.8 0zM305.8 239.2a2.40 2.40 0 1 0 4.8 0a2.40 2.40 0 1 0 -4.8 0zM306.7 238.9a2.40 2.40 0 1 0 4.8 0a2.40 2.40 0 1 0 -4.8 0zM307.6 238.6a2.40 2.40 0 1 0 4.8 0a2.40 2.40 0 1 0 -4.8 0zM308.5 238.3a2.40 2.40 0 1 0 4.8 0a2.40 2.40 0 1 0 -4.8 0zM309.4 238.1a2.40 2.40 0 1 0 4.8 0a2.40 2.40 0 1 0 -4.8 0zM310.3 237.8a2.40 2.40 0 1 0 4.8 0a2.40 2.40 0 1 0 -4.8 0zM311.2 237.5a2.40 2.40 0 1 0 4.8 0a2.40 2.40 0 1 0 -4.8 0zM312.1 237.2a2.40 2.40 0 1 0 4.8 0a2.40 2.40 0 1 0 -4.8 0zM313.0 236.9a2.40 2.40 0 1 0 4.8 0a2.40 2.40 0 1 0 -4.8 0zM313.9 236.6a2.40 2.40 0 1 0 4.8 0a2.40 2.40 0 1 0 -4.8 0zM314.8 236.4a2.40 2.40 0 1 0 4.8 0a2.40 2.40 0 1 0 -4.8 0zM315.7 236.1a2.40 2.40 0 1 0 4.8 0a2.40 2.40 0 1 0 -4.8 0zM316.6 235.8a2.40 2.40 0 1 0 4.8 0a2.40 2.40 0 1 0 -4.8 0zM317.5 235.5a2.40 2.40 0 1 0 4.8 0a2.40 2.40 0 1 0 -4.8 0zM318.4 235.3a2.40 2.40 0 1 0 4.8 0a2.40 2.40 0 1 0 -4.8 0zM319.3 235.0a2.40 2.40 0 1 0 4.8 0a2.40 2.40 0 1 0 -4.8 0zM320.2 234.7a2.40 2.40 0 1 0 4.8 0a2.40 2.40 0 1 0 -4.8 0zM321.1 234.4a2.40 2.40 0 1 0 4.8 0a2.40 2.40 0 1 0 -4.8 0zM322.0 234.2a2.40 2.40 0 1 0 4.8 0a2.40 2.40 0 1 0 -4.8 0zM322.9 233.9a2.40 2.40 0 1 0 4.8 0a2.40 2.40 0 1 0 -4.8 0zM323.8 233.6a2.40 2.40 0 1 0 4.8 0a2.40 2.40 0 1 0 -4.8 0zM324.7 233.3a2.40 2.40 0 1 0 4.8 0a2.40 2.40 0 1 0 -4.8 0zM325.6 233.1a2.40 2.40 0 1 0 4.8 0a2.40 2.40 0 1 0 -4.8 0zM326.5 232.8a2.40 2.40 0 1 0 4.8 0a2.40 2.40 0 1 0 -4.8 0zM327.4 232.5a2.40 2.40 0 1 0 4.8 0a2.40 2.40 0 1 0 -4.8 0zM328.3 232.2a2.40 2.40 0 1 0 4.8 0a2.40 2.40 0 1 0 -4.8 0zM329.2 231.9a2.40 2.40 0 1 0 4.8 0a2.40 2.40 0 1 0 -4.8 0zM330.1 231.6a2.40 2.40 0 1 0 4.8 0a2.40 2.40 0 1 0 -4.8 0zM331.0 231.4a2.40 2.40 0 1 0 4.8 0a2.40 2.40 0 1 0 -4.8 0zM331.9 231.1a2.40 2.40 0 1 0 4.8 0a2.40 2.40 0 1 0 -4.8 0zM332.8 230.8a2.40 2.40 0 1 0 4.8 0a2.40 2.40 0 1 0 -4.8 0zM333.7 230.5a2.40 2.40 0 1 0 4.8 0a2.40 2.40 0 1 0 -4.8 0zM334.6 230.2a2.40 2.40 0 1 0 4.8 0a2.40 2.40 0 1 0 -4.8 0zM335.5 229.9a2.40 2.40 0 1 0 4.8 0a2.40 2.40 0 1 0 -4.8 0zM336.4 229.6a2.40 2.40 0 1 0 4.8 0a2.40 2.40 0 1 0 -4.8 0zM337.3 229.4a2.40 2.40 0 1 0 4.8 0a2.40 2.40 0 1 0 -4.8 0zM338.2 229.1a2.40 2.40 0 1 0 4.8 0a2.40 2.40 0 1 0 -4.8 0zM339.1 228.8a2.40 2.40 0 1 0 4.8 0a2.40 2.40 0 1 0 -4.8 0zM340.0 228.5a2.40 2.40 0 1 0 4.8 0a2.40 2.40 0 1 0 -4.8 0zM340.9 228.2a2.40 2.40 0 1 0 4.8 0a2.40 2.40 0 1 0 -4.8 0zM341.8 228.0a2.40 2.40 0 1 0 4.8 0a2.40 2.40 0 1 0 -4.8 0zM342.7 227.7a2.40 2.40 0 1 0 4.8 0a2.40 2.40 0 1 0 -4.8 0zM343.6 227.4a2.40 2.40 0 1 0 4.8 0a2.40 2.40 0 1 0 -4.8 0zM344.5 227.1a2.40 2.40 0 1 0 4.8 0a2.40 2.40 0 1 0 -4.8 0zM345.4 226.8a2.40 2.40 0 1 0 4.8 0a2.40 2.40 0 1 0 -4.8 0zM346.3 226.5a2.40 2.40 0 1 0 4.8 0a2.40 2.40 0 1 0 -4.8 0zM347.2 226.3a2.40 2.40 0 1 0 4.8 0a2.40 2.40 0 1 0 -4.8 0zM348.1 226.0a2.40 2.40 0 1 0 4.8 0a2.40 2.40 0 1 0 -4.8 0zM349.0 225.7a2.40 2.40 0 1 0 4.8 0a2.40 2.40 0 1 0 -4.8 0zM349.9 225.4a2.40 2.40 0 1 0 4.8 0a2.40 2.40 0 1 0 -4.8 0zM350.8 225.1a2.40 2.40 0 1 0 4.8 0a2.40 2.40 0 1 0 -4.8 0zM351.7 224.9a2.40 2.40 0 1 0 4.8 0a2.40 2.40 0 1 0 -4.8 0zM352.6 224.6a2.40 2.40 0 1 0 4.8 0a2.40 2.40 0 1 0 -4.8 0zM353.5 224.3a2.40 2.40 0 1 0 4.8 0a2.40 2.40 0 1 0 -4.8 0zM354.4 224.0a2.40 2.40 0 1 0 4.8 0a2.40 2.40 0 1 0 -4.8 0zM355.3 223.7a2.40 2.40 0 1 0 4.8 0a2.40 2.40 0 1 0 -4.8 0zM356.2 223.4a2.40 2.40 0 1 0 4.8 0a2.40 2.40 0 1 0 -4.8 0zM357.1 223.2a2.40 2.40 0 1 0 4.8 0a2.40 2.40 0 1 0 -4.8 0zM358.0 222.9a2.40 2.40 0 1 0 4.8 0a2.40 2.40 0 1 0 -4.8 0zM358.9 222.6a2.40 2.40 0 1 0 4.8 0a2.40 2.40 0 1 0 -4.8 0zM359.8 222.3a2.40 2.40 0 1 0 4.8 0a2.40 2.40 0 1 0 -4.8 0zM360.7 222.0a2.40 2.40 0 1 0 4.8 0a2.40 2.40 0 1 0 -4.8 0zM361.6 221.7a2.40 2.40 0 1 0 4.8 0a2.40 2.40 0 1 0 -4.8 0zM362.5 221.4a2.40 2.40 0 1 0 4.8 0a2.40 2.40 0 1 0 -4.8 0zM363.4 221.1a2.40 2.40 0 1 0 4.8 0a2.40 2.40 0 1 0 -4.8 0zM364.3 220.8a2.40 2.40 0 1 0 4.8 0a2.40 2.40 0 1 0 -4.8 0zM365.2 220.5a2.40 2.40 0 1 0 4.8 0a2.40 2.40 0 1 0 -4.8 0zM366.1 220.2a2.40 2.40 0 1 0 4.8 0a2.40 2.40 0 1 0 -4.8 0zM367.0 219.9a2.40 2.40 0 1 0 4.8 0a2.40 2.40 0 1 0 -4.8 0zM367.9 219.6a2.40 2.40 0 1 0 4.8 0a2.40 2.40 0 1 0 -4.8 0zM368.8 219.3a2.40 2.40 0 1 0 4.8 0a2.40 2.40 0 1 0 -4.8 0zM369.7 219.0a2.40 2.40 0 1 0 4.8 0a2.40 2.40 0 1 0 -4.8 0zM370.6 218.7a2.40 2.40 0 1 0 4.8 0a2.40 2.40 0 1 0 -4.8 0zM371.5 218.4a2.40 2.40 0 1 0 4.8 0a2.40 2.40 0 1 0 -4.8 0zM372.4 218.2a2.40 2.40 0 1 0 4.8 0a2.40 2.40 0 1 0 -4.8 0zM373.3 217.9a2.40 2.40 0 1 0 4.8 0a2.40 2.40 0 1 0 -4.8 0zM374.2 217.6a2.40 2.40 0 1 0 4.8 0a2.40 2.40 0 1 0 -4.8 0zM375.1 217.3a2.40 2.40 0 1 0 4.8 0a2.40 2.40 0 1 0 -4.8 0zM376.0 217.0a2.40 2.40 0 1 0 4.8 0a2.40 2.40 0 1 0 -4.8 0zM376.9 216.7a2.40 2.40 0 1 0 4.8 0a2.40 2.40 0 1 0 -4.8 0zM377.8 216.4a2.40 2.40 0 1 0 4.8 0a2.40 2.40 0 1 0 -4.8 0zM378.7 216.1a2.40 2.40 0 1 0 4.8 0a2.40 2.40 0 1 0 -4.8 0zM379.6 215.8a2.40 2.40 0 1 0 4.8 0a2.40 2.40 0 1 0 -4.8 0zM380.5 215.5a2.40 2.40 0 1 0 4.8 0a2.40 2.40 0 1 0 -4.8 0zM381.4 215.2a2.40 2.40 0 1 0 4.8 0a2.40 2.40 0 1 0 -4.8 0zM382.3 214.9a2.40 2.40 0 1 0 4.8 0a2.40 2.40 0 1 0 -4.8 0zM383.2 214.7a2.40 2.40 0 1 0 4.8 0a2.40 2.40 0 1 0 -4.8 0zM384.1 214.4a2.40 2.40 0 1 0 4.8 0a2.40 2.40 0 1 0 -4.8 0zM385.0 214.1a2.40 2.40 0 1 0 4.8 0a2.40 2.40 0 1 0 -4.8 0zM385.9 213.8a2.40 2.40 0 1 0 4.8 0a2.40 2.40 0 1 0 -4.8 0zM386.8 213.5a2.40 2.40 0 1 0 4.8 0a2.40 2.40 0 1 0 -4.8 0zM387.7 213.2a2.40 2.40 0 1 0 4.8 0a2.40 2.40 0 1 0 -4.8 0zM388.6 213.0a2.40 2.40 0 1 0 4.8 0a2.40 2.40 0 1 0 -4.8 0zM389.5 212.7a2.40 2.40 0 1 0 4.8 0a2.40 2.40 0 1 0 -4.8 0zM390.4 212.4a2.40 2.40 0 1 0 4.8 0a2.40 2.40 0 1 0 -4.8 0zM391.3 212.2a2.40 2.40 0 1 0 4.8 0a2.40 2.40 0 1 0 -4.8 0zM392.2 211.9a2.40 2.40 0 1 0 4.8 0a2.40 2.40 0 1 0 -4.8 0zM393.1 211.7a2.40 2.40 0 1 0 4.8 0a2.40 2.40 0 1 0 -4.8 0zM394.0 211.4a2.40 2.40 0 1 0 4.8 0a2.40 2.40 0 1 0 -4.8 0zM394.9 211.2a2.40 2.40 0 1 0 4.8 0a2.40 2.40 0 1 0 -4.8 0zM395.8 210.9a2.40 2.40 0 1 0 4.8 0a2.40 2.40 0 1 0 -4.8 0zM396.7 210.6a2.40 2.40 0 1 0 4.8 0a2.40 2.40 0 1 0 -4.8 0zM397.6 210.4a2.40 2.40 0 1 0 4.8 0a2.40 2.40 0 1 0 -4.8 0zM398.5 210.1a2.40 2.40 0 1 0 4.8 0a2.40 2.40 0 1 0 -4.8 0zM399.4 209.9a2.40 2.40 0 1 0 4.8 0a2.40 2.40 0 1 0 -4.8 0zM400.3 209.6a2.40 2.40 0 1 0 4.8 0a2.40 2.40 0 1 0 -4.8 0zM401.2 209.3a2.40 2.40 0 1 0 4.8 0a2.40 2.40 0 1 0 -4.8 0zM402.1 209.1a2.40 2.40 0 1 0 4.8 0a2.40 2.40 0 1 0 -4.8 0zM403.0 208.8a2.40 2.40 0 1 0 4.8 0a2.40 2.40 0 1 0 -4.8 0zM403.9 208.5a2.40 2.40 0 1 0 4.8 0a2.40 2.40 0 1 0 -4.8 0zM404.8 208.2a2.40 2.40 0 1 0 4.8 0a2.40 2.40 0 1 0 -4.8 0zM405.7 207.9a2.40 2.40 0 1 0 4.8 0a2.40 2.40 0 1 0 -4.8 0zM406.6 207.6a2.40 2.40 0 1 0 4.8 0a2.40 2.40 0 1 0 -4.8 0zM407.5 207.3a2.40 2.40 0 1 0 4.8 0a2.40 2.40 0 1 0 -4.8 0zM408.4 207.0a2.40 2.40 0 1 0 4.8 0a2.40 2.40 0 1 0 -4.8 0zM409.3 206.7a2.40 2.40 0 1 0 4.8 0a2.40 2.40 0 1 0 -4.8 0zM410.2 206.3a2.40 2.40 0 1 0 4.8 0a2.40 2.40 0 1 0 -4.8 0zM411.1 206.0a2.40 2.40 0 1 0 4.8 0a2.40 2.40 0 1 0 -4.8 0zM412.0 205.6a2.40 2.40 0 1 0 4.8 0a2.40 2.40 0 1 0 -4.8 0zM412.9 205.3a2.40 2.40 0 1 0 4.8 0a2.40 2.40 0 1 0 -4.8 0zM413.8 204.9a2.40 2.40 0 1 0 4.8 0a2.40 2.40 0 1 0 -4.8 0zM414.7 204.5a2.40 2.40 0 1 0 4.8 0a2.40 2.40 0 1 0 -4.8 0zM415.6 204.2a2.40 2.40 0 1 0 4.8 0a2.40 2.40 0 1 0 -4.8 0zM416.5 203.8a2.40 2.40 0 1 0 4.8 0a2.40 2.40 0 1 0 -4.8 0zM417.4 203.5a2.40 2.40 0 1 0 4.8 0a2.40 2.40 0 1 0 -4.8 0zM418.3 203.1a2.40 2.40 0 1 0 4.8 0a2.40 2.40 0 1 0 -4.8 0zM419.2 202.8a2.40 2.40 0 1 0 4.8 0a2.40 2.40 0 1 0 -4.8 0zM420.1 202.4a2.40 2.40 0 1 0 4.8 0a2.40 2.40 0 1 0 -4.8 0zM421.0 202.1a2.40 2.40 0 1 0 4.8 0a2.40 2.40 0 1 0 -4.8 0zM421.9 201.7a2.40 2.40 0 1 0 4.8 0a2.40 2.40 0 1 0 -4.8 0zM422.8 201.4a2.40 2.40 0 1 0 4.8 0a2.40 2.40 0 1 0 -4.8 0zM423.7 201.0a2.40 2.40 0 1 0 4.8 0a2.40 2.40 0 1 0 -4.8 0zM424.6 200.7a2.40 2.40 0 1 0 4.8 0a2.40 2.40 0 1 0 -4.8 0zM425.5 200.3a2.40 2.40 0 1 0 4.8 0a2.40 2.40 0 1 0 -4.8 0zM426.4 200.0a2.40 2.40 0 1 0 4.8 0a2.40 2.40 0 1 0 -4.8 0zM427.3 199.6a2.40 2.40 0 1 0 4.8 0a2.40 2.40 0 1 0 -4.8 0zM428.2 199.3a2.40 2.40 0 1 0 4.8 0a2.40 2.40 0 1 0 -4.8 0zM429.1 199.0a2.40 2.40 0 1 0 4.8 0a2.40 2.40 0 1 0 -4.8 0zM430.0 198.7a2.40 2.40 0 1 0 4.8 0a2.40 2.40 0 1 0 -4.8 0zM430.9 198.3a2.40 2.40 0 1 0 4.8 0a2.40 2.40 0 1 0 -4.8 0zM431.8 198.0a2.40 2.40 0 1 0 4.8 0a2.40 2.40 0 1 0 -4.8 0zM432.7 197.7a2.40 2.40 0 1 0 4.8 0a2.40 2.40 0 1 0 -4.8 0zM433.6 197.4a2.40 2.40 0 1 0 4.8 0a2.40 2.40 0 1 0 -4.8 0zM434.5 197.0a2.40 2.40 0 1 0 4.8 0a2.40 2.40 0 1 0 -4.8 0zM435.4 196.7a2.40 2.40 0 1 0 4.8 0a2.40 2.40 0 1 0 -4.8 0zM436.3 196.4a2.40 2.40 0 1 0 4.8 0a2.40 2.40 0 1 0 -4.8 0zM437.2 196.1a2.40 2.40 0 1 0 4.8 0a2.40 2.40 0 1 0 -4.8 0zM438.1 195.7a2.40 2.40 0 1 0 4.8 0a2.40 2.40 0 1 0 -4.8 0zM439.0 195.4a2.40 2.40 0 1 0 4.8 0a2.40 2.40 0 1 0 -4.8 0zM439.9 195.1a2.40 2.40 0 1 0 4.8 0a2.40 2.40 0 1 0 -4.8 0zM440.8 194.8a2.40 2.40 0 1 0 4.8 0a2.40 2.40 0 1 0 -4.8 0zM441.7 194.4a2.40 2.40 0 1 0 4.8 0a2.40 2.40 0 1 0 -4.8 0zM442.6 194.1a2.40 2.40 0 1 0 4.8 0a2.40 2.40 0 1 0 -4.8 0zM443.5 193.8a2.40 2.40 0 1 0 4.8 0a2.40 2.40 0 1 0 -4.8 0zM444.4 193.5a2.40 2.40 0 1 0 4.8 0a2.40 2.40 0 1 0 -4.8 0zM445.3 193.2a2.40 2.40 0 1 0 4.8 0a2.40 2.40 0 1 0 -4.8 0zM446.2 192.8a2.40 2.40 0 1 0 4.8 0a2.40 2.40 0 1 0 -4.8 0zM447.1 192.5a2.40 2.40 0 1 0 4.8 0a2.40 2.40 0 1 0 -4.8 0zM448.0 192.2a2.40 2.40 0 1 0 4.8 0a2.40 2.40 0 1 0 -4.8 0zM448.9 191.8a2.40 2.40 0 1 0 4.8 0a2.40 2.40 0 1 0 -4.8 0zM449.8 191.5a2.40 2.40 0 1 0 4.8 0a2.40 2.40 0 1 0 -4.8 0zM450.7 191.1a2.40 2.40 0 1 0 4.8 0a2.40 2.40 0 1 0 -4.8 0zM451.6 190.8a2.40 2.40 0 1 0 4.8 0a2.40 2.40 0 1 0 -4.8 0zM452.5 190.4a2.40 2.40 0 1 0 4.8 0a2.40 2.40 0 1 0 -4.8 0zM453.4 190.1a2.40 2.40 0 1 0 4.8 0a2.40 2.40 0 1 0 -4.8 0zM454.3 189.7a2.40 2.40 0 1 0 4.8 0a2.40 2.40 0 1 0 -4.8 0zM455.2 189.4a2.40 2.40 0 1 0 4.8 0a2.40 2.40 0 1 0 -4.8 0zM456.1 189.0a2.40 2.40 0 1 0 4.8 0a2.40 2.40 0 1 0 -4.8 0zM457.0 188.6a2.40 2.40 0 1 0 4.8 0a2.40 2.40 0 1 0 -4.8 0zM457.9 188.3a2.40 2.40 0 1 0 4.8 0a2.40 2.40 0 1 0 -4.8 0zM458.8 187.9a2.40 2.40 0 1 0 4.8 0a2.40 2.40 0 1 0 -4.8 0zM459.7 187.5a2.40 2.40 0 1 0 4.8 0a2.40 2.40 0 1 0 -4.8 0zM460.6 187.1a2.40 2.40 0 1 0 4.8 0a2.40 2.40 0 1 0 -4.8 0zM461.5 186.7a2.40 2.40 0 1 0 4.8 0a2.40 2.40 0 1 0 -4.8 0zM462.4 186.3a2.40 2.40 0 1 0 4.8 0a2.40 2.40 0 1 0 -4.8 0zM463.3 185.9a2.40 2.40 0 1 0 4.8 0a2.40 2.40 0 1 0 -4.8 0zM464.2 185.6a2.40 2.40 0 1 0 4.8 0a2.40 2.40 0 1 0 -4.8 0zM465.1 185.2a2.40 2.40 0 1 0 4.8 0a2.40 2.40 0 1 0 -4.8 0zM466.0 184.8a2.40 2.40 0 1 0 4.8 0a2.40 2.40 0 1 0 -4.8 0zM466.9 184.3a2.40 2.40 0 1 0 4.8 0a2.40 2.40 0 1 0 -4.8 0zM467.8 183.9a2.40 2.40 0 1 0 4.8 0a2.40 2.40 0 1 0 -4.8 0zM468.7 183.5a2.40 2.40 0 1 0 4.8 0a2.40 2.40 0 1 0 -4.8 0zM469.6 183.1a2.40 2.40 0 1 0 4.8 0a2.40 2.40 0 1 0 -4.8 0zM470.5 182.7a2.40 2.40 0 1 0 4.8 0a2.40 2.40 0 1 0 -4.8 0zM471.4 182.3a2.40 2.40 0 1 0 4.8 0a2.40 2.40 0 1 0 -4.8 0zM472.3 181.8a2.40 2.40 0 1 0 4.8 0a2.40 2.40 0 1 0 -4.8 0zM473.2 181.4a2.40 2.40 0 1 0 4.8 0a2.40 2.40 0 1 0 -4.8 0zM474.1 181.0a2.40 2.40 0 1 0 4.8 0a2.40 2.40 0 1 0 -4.8 0zM475.0 180.6a2.40 2.40 0 1 0 4.8 0a2.40 2.40 0 1 0 -4.8 0zM475.9 180.1a2.40 2.40 0 1 0 4.8 0a2.40 2.40 0 1 0 -4.8 0zM476.8 179.7a2.40 2.40 0 1 0 4.8 0a2.40 2.40 0 1 0 -4.8 0zM477.7 179.3a2.40 2.40 0 1 0 4.8 0a2.40 2.40 0 1 0 -4.8 0zM478.6 178.8a2.40 2.40 0 1 0 4.8 0a2.40 2.40 0 1 0 -4.8 0zM479.5 178.4a2.40 2.40 0 1 0 4.8 0a2.40 2.40 0 1 0 -4.8 0zM480.4 177.9a2.40 2.40 0 1 0 4.8 0a2.40 2.40 0 1 0 -4.8 0zM481.3 177.5a2.40 2.40 0 1 0 4.8 0a2.40 2.40 0 1 0 -4.8 0zM482.2 177.0a2.40 2.40 0 1 0 4.8 0a2.40 2.40 0 1 0 -4.8 0zM483.0 176.6a2.40 2.40 0 1 0 4.8 0a2.40 2.40 0 1 0 -4.8 0zM484.0 176.1a2.40 2.40 0 1 0 4.8 0a2.40 2.40 0 1 0 -4.8 0zM484.9 175.6a2.40 2.40 0 1 0 4.8 0a2.40 2.40 0 1 0 -4.8 0zM485.7 175.1a2.40 2.40 0 1 0 4.8 0a2.40 2.40 0 1 0 -4.8 0zM486.6 174.6a2.40 2.40 0 1 0 4.8 0a2.40 2.40 0 1 0 -4.8 0zM487.6 174.0a2.40 2.40 0 1 0 4.8 0a2.40 2.40 0 1 0 -4.8 0zM488.5 173.5a2.40 2.40 0 1 0 4.8 0a2.40 2.40 0 1 0 -4.8 0zM489.4 172.9a2.40 2.40 0 1 0 4.8 0a2.40 2.40 0 1 0 -4.8 0zM490.2 172.4a2.40 2.40 0 1 0 4.8 0a2.40 2.40 0 1 0 -4.8 0zM491.1 171.8a2.40 2.40 0 1 0 4.8 0a2.40 2.40 0 1 0 -4.8 0zM492.0 171.2a2.40 2.40 0 1 0 4.8 0a2.40 2.40 0 1 0 -4.8 0zM492.9 170.5a2.40 2.40 0 1 0 4.8 0a2.40 2.40 0 1 0 -4.8 0zM493.8 169.9a2.40 2.40 0 1 0 4.8 0a2.40 2.40 0 1 0 -4.8 0zM494.7 169.2a2.40 2.40 0 1 0 4.8 0a2.40 2.40 0 1 0 -4.8 0zM495.6 168.5a2.40 2.40 0 1 0 4.8 0a2.40 2.40 0 1 0 -4.8 0zM496.5 167.8a2.40 2.40 0 1 0 4.8 0a2.40 2.40 0 1 0 -4.8 0zM497.4 167.0a2.40 2.40 0 1 0 4.8 0a2.40 2.40 0 1 0 -4.8 0zM498.3 166.3a2.40 2.40 0 1 0 4.8 0a2.40 2.40 0 1 0 -4.8 0zM499.2 165.5a2.40 2.40 0 1 0 4.8 0a2.40 2.40 0 1 0 -4.8 0zM500.1 164.7a2.40 2.40 0 1 0 4.8 0a2.40 2.40 0 1 0 -4.8 0zM500.9 164.0a2.40 2.40 0 1 0 4.8 0a2.40 2.40 0 1 0 -4.8 0z"/>
<path fill="#000" d="M130.9 35.9l3.2 3.2l-3.2 3.2l-3.2 -3.2zM130.9 40.0l3.2 3.2l-3.2 3.2l-3.2 -3.2zM130.9 44.1l3.2 3.2l-3.2 3.2l-3.2 -3.2zM131.0 47.8l3.2 3.2l-3.2 3.2l-3.2 -3.2zM131.3 50.8l3.2 3.2l-3.2 3.2l-3.2 -3.2zM130.5 60.4l3.2 3.2l-3.2 3.2l-3.2 -3.2zM131.8 63.6l3.2 3.2l-3.2 3.2l-3.2 -3.2zM130.6 71.8l3.2 3.2l-3.2 3.2l-3.2 -3.2zM132.3 78.6l3.2 3.2l-3.2 3.2l-3.2 -3.2zM130.9 94.1l3.2 3.2l-3.2 3.2l-3.2 -3.2zM131.4 116.3l3.2 3.2l-3.2 3.2l-3.2 -3.2zM132.1 137.7l3.2 3.2l-3.2 3.2l-3.2 -3.2zM133.0 156.6l3.2 3.2l-3.2 3.2l-3.2 -3.2zM133.6 171.8l3.2 3.2l-3.2 3.2l-3.2 -3.2zM134.5 185.4l3.2 3.2l-3.2 3.2l-3.2 -3.2zM135.2 195.4l3.2 3.2l-3.2 3.2l-3.2 -3.2zM135.9 207.3l3.2 3.2l-3.2 3.2l-3.2 -3.2zM137.7 219.5l3.2 3.2l-3.2 3.2l-3.2 -3.2zM139.3 229.1l3.2 3.2l-3.2 3.2l-3.2 -3.2zM140.9 240.4l3.2 3.2l-3.2 3.2l-3.2 -3.2zM142.5 250.1l3.2 3.2l-3.2 3.2l-3.2 -3.2zM144.2 258.3l3.2 3.2l-3.2 3.2l-3.2 -3.2zM146.4 265.3l3.2 3.2l-3.2 3.2l-3.2 -3.2zM148.0 267.0l3.2 3.2l-3.2 3.2l-3.2 -3.2zM149.6 269.2l3.2 3.2l-3.2 3.2l-3.2 -3.2zM151.3 274.1l3.2 3.2l-3.2 3.2l-3.2 -3.2zM153.4 280.4l3.2 3.2l-3.2 3.2l-3.2 -3.2zM155.1 284.2l3.2 3.2l-3.2 3.2l-3.2 -3.2zM157.3 288.0l3.2 3.2l-3.2 3.2l-3.2 -3.2zM160.0 292.2l3.2 3.2l-3.2 3.2l-3.2 -3.2zM162.4 296.0l3.2 3.2l-3.2 3.2l-3.2 -3.2zM164.4 299.2l3.2 3.2l-3.2 3.2l-3.2 -3.2zM166.6 302.0l3.2 3.2l-3.2 3.2l-3.2 -3.2zM167.7 303.2l3.2 3.2l-3.2 3.2l-3.2 -3.2zM168.8 304.3l3.2 3.2l-3.2 3.2l-3.2 -3.2zM169.8 305.2l3.2 3.2l-3.2 3.2l-3.2 -3.2zM170.9 306.2l3.2 3.2l-3.2 3.2l-3.2 -3.2zM172.0 307.0l3.2 3.2l-3.2 3.2l-3.2 -3.2zM173.0 307.9l3.2 3.2l-3.2 3.2l-3.2 -3.2zM174.1 308.7l3.2 3.2l-3.2 3.2l-3.2 -3.2zM175.1 309.5l3.2 3.2l-3.2 3.2l-3.2 -3.2zM176.2 310.3l3.2 3.2l-3.2 3.2l-3.2 -3.2zM177.2 311.0l3.2 3.2l-3.2 3.2l-3.2 -3.2zM178.3 311.8l3.2 3.2l-3.2 3.2l-3.2 -3.2zM179.3 312.5l3.2 3.2l-3.2 3.2l-3.2 -3.2zM180.4 313.2l3.2 3.2l-3.2 3.2l-3.2 -3.2zM181.4 313.8l3.2 3.2l-3.2 3.2l-3.2 -3.2zM182.5 314.5l3.2 3.2l-3.2 3.2l-3.2 -3.2zM183.5 315.1l3.2 3.2l-3.2 3.2l-3.2 -3.2zM184.6 315.8l3.2 3.2l-3.2 3.2l-3.2 -3.2zM185.6 316.4l3.2 3.2l-3.2 3.2l-3.2 -3.2zM186.7 317.0l3.2 3.2l-3.2 3.2l-3.2 -3.2zM187.7 317.6l3.2 3.2l-3.2 3.2l-3.2 -3.2zM188.8 318.3l3.2 3.2l-3.2 3.2l-3.2 -3.2zM189.9 318.8l3.2 3.2l-3.2 3.2l-3.2 -3.2zM190.9 319.4l3.2 3.2l-3.2 3.2l-3.2 -3.2zM192.0 320.0l3.2 3.2l-3.2 3.2l-3.2 -3.2zM193.0 320.6l3.2 3.2l-3.2 3.2l-3.2 -3.2zM194.1 321.2l3.2 3.2l-3.2 3.2l-3.2 -3.2zM195.1 321.7l3.2 3.2l-3.2 3.2l-3.2 -3.2zM196.2 322.2l3.2 3.2l-3.2 3.2l-3.2 -3.2zM197.2 322.8l3.2 3.2l-3.2 3.2l-3.2 -3.2zM198.2 323.3l3.2 3.2l-3.2 3.2l-3.2 -3.2zM199.3 323.9l3.2 3.2l-3.2 3.2l-3.2 -3.2zM200.4 324.4l3.2 3.2l-3.2 3.2l-3.2 -3.2zM201.4 324.9l3.2 3.2l-3.2 3.2l-3.2 -3.2zM202.5 325.4l3.2 3.2l-3.2 3.2l-3.2 -3.2zM203.5 325.9l3.2 3.2l-3.2 3.2l-3.2 -3.2zM204.6 326.3l3.2 3.2l-3.2 3.2l-3.2 -3.2zM205.6 326.8l3.2 3.2l-3.2 3.2l-3.2 -3.2zM206.7 327.2l3.2 3.2l-3.2 3.2l-3.2 -3.2zM207.8 327.6l3.2 3.2l-3.2 3.2l-3.2 -3.2zM208.8 328.0l3.2 3.2l-3.2 3.2l-3.2 -3.2zM209.9 328.4l3.2 3.2l-3.2 3.2l-3.2 -3.2zM210.9 328.8l3.2 3.2l-3.2 3.2l-3.2 -3.2zM211.9 329.1l3.2 3.2l-3.2 3.2l-3.2 -3.2zM213.0 329.5l3.2 3.2l-3.2 3.2l-3.2 -3.2zM214.0 329.8l3.2 3.2l-3.2 3.2l-3.2 -3.2zM215.1 330.2l3.2 3.2l-3.2 3.2l-3.2 -3.2zM216.2 330.5l3.2 3.2l-3.2 3.2l-3.2 -3.2zM217.2 330.8l3.2 3.2l-3.2 3.2l-3.2 -3.2zM218.3 331.1l3.2 3.2l-3.2 3.2l-3.2 -3.2zM219.3 331.4l3.2 3.2l-3.2 3.2l-3.2 -3.2zM220.3 331.6l3.2 3.2l-3.2 3.2l-3.2 -3.2zM221.4 331.9l3.2 3.2l-3.2 3.2l-3.2 -3.2zM222.5 332.2l3.2 3.2l-3.2 3.2l-3.2 -3.2zM223.5 332.4l3.2 3.2l-3.2 3.2l-3.2 -3.2zM224.6 332.7l3.2 3.2l-3.2 3.2l-3.2 -3.2zM225.6 332.9l3.2 3.2l-3.2 3.2l-3.2 -3.2zM226.7 333.1l3.2 3.2l-3.2 3.2l-3.2 -3.2zM227.7 333.3l3.2 3.2l-3.2 3.2l-3.2 -3.2zM228.8 333.5l3.2 3.2l-3.2 3.2l-3.2 -3.2zM229.8 333.7l3.2 3.2l-3.2 3.2l-3.2 -3.2zM230.9 333.9l3.2 3.2l-3.2 3.2l-3.2 -3.2zM231.9 334.0l3.2 3.2l-3.2 3.2l-3.2 -3.2zM233.0 334.2l3.2 3.2l-3.2 3.2l-3.2 -3.2zM234.0 334.4l3.2 3.2l-3.2 3.2l-3.2 -3.2zM235.1 334.5l3.2 3.2l-3.2 3.2l-3.2 -3.2zM236.1 334.7l3.2 3.2l-3.2 3.2l-3.2 -3.2zM237.2 334.8l3.2 3.2l-3.2 3.2l-3.2 -3.2zM238.2 334.9l3.2 3.2l-3.2 3.2l-3.2 -3.2zM239.3 335.1l3.2 3.2l-3.2 3.2l-3.2 -3.2zM240.3 335.2l3.2 3.2l-3.2 3.2l-3.2 -3.2zM241.4 335.3l3.2 3.2l-3.2 3.2l-3.2 -3.2zM242.4 335.5l3.2 3.2l-3.2 3.2l-3.2 -3.2zM243.5 335.6l3.2 3.2l-3.2 3.2l-3.2 -3.2zM244.5 335.8l3.2 3.2l-3.2 3.2l-3.2 -3.2zM245.6 335.9l3.2 3.2l-3.2 3.2l-3.2 -3.2zM246.6 336.0l3.2 3.2l-3.2 3.2l-3.2 -3.2zM247.7 336.2l3.2 3.2l-3.2 3.2l-3.2 -3.2zM248.7 336.3l3.2 3.2l-3.2 3.2l-3.2 -3.2zM249.8 336.3l3.2 3.2l-3.2 3.2l-3.2 -3.2zM250.9 336.3l3.2 3.2l-3.2 3.2l-3.2 -3.2zM251.9 336.3l3.2 3.2l-3.2 3.2l-3.2 -3.2zM252.9 336.3l3.2 3.2l-3.2 3.2l-3.2 -3.2zM254.0 336.3l3.2 3.2l-3.2 3.2l-3.2 -3.2zM255.0 336.3l3.2 3.2l-3.2 3.2l-3.2 -3.2zM256.1 336.3l3.2 3.2l-3.2 3.2l-3.2 -3.2zM257.1 336.1l3.2 3.2l-3.2 3.2l-3.2 -3.2zM258.2 335.9l3.2 3.2l-3.2 3.2l-3.2 -3.2zM259.2 335.6l3.2 3.2l-3.2 3.2l-3.2 -3.2zM260.3 335.3l3.2 3.2l-3.2 3.2l-3.2 -3.2zM261.3 335.0l3.2 3.2l-3.2 3.2l-3.2 -3.2zM262.3 334.5l3.2 3.2l-3.2 3.2l-3.2 -3.2zM264.3 333.5l3.2 3.2l-3.2 3.2l-3.2 -3.2zM266.2 332.2l3.2 3.2l-3.2 3.2l-3.2 -3.2zM268.1 330.5l3.2 3.2l-3.2 3.2l-3.2 -3.2zM269.9 328.3l3.2 3.2l-3.2 3.2l-3.2 -3.2zM271.6 325.3l3.2 3.2l-3.2 3.2l-3.2 -3.2zM273.7 320.8l3.2 3.2l-3.2 3.2l-3.2 -3.2zM275.5 316.7l3.2 3.2l-3.2 3.2l-3.2 -3.2zM277.6 311.6l3.2 3.2l-3.2 3.2l-3.2 -3.2zM279.3 306.7l3.2 3.2l-3.2 3.2l-3.2 -3.2zM281.4 300.2l3.2 3.2l-3.2 3.2l-3.2 -3.2zM283.3 294.1l3.2 3.2l-3.2 3.2l-3.2 -3.2zM285.5 287.5l3.2 3.2l-3.2 3.2l-3.2 -3.2zM287.4 282.0l3.2 3.2l-3.2 3.2l-3.2 -3.2zM289.4 275.6l3.2 3.2l-3.2 3.2l-3.2 -3.2zM291.5 269.6l3.2 3.2l-3.2 3.2l-3.2 -3.2zM293.5 264.0l3.2 3.2l-3.2 3.2l-3.2 -3.2zM295.8 259.2l3.2 3.2l-3.2 3.2l-3.2 -3.2zM297.8 255.5l3.2 3.2l-3.2 3.2l-3.2 -3.2zM299.9 252.0l3.2 3.2l-3.2 3.2l-3.2 -3.2zM302.0 249.1l3.2 3.2l-3.2 3.2l-3.2 -3.2zM304.2 246.6l3.2 3.2l-3.2 3.2l-3.2 -3.2zM306.3 244.8l3.2 3.2l-3.2 3.2l-3.2 -3.2zM307.4 244.1l3.2 3.2l-3.2 3.2l-3.2 -3.2zM308.5 243.4l3.2 3.2l-3.2 3.2l-3.2 -3.2zM309.5 242.7l3.2 3.2l-3.2 3.2l-3.2 -3.2zM310.6 242.1l3.2 3.2l-3.2 3.2l-3.2 -3.2zM311.6 241.5l3.2 3.2l-3.2 3.2l-3.2 -3.2zM312.7 241.0l3.2 3.2l-3.2 3.2l-3.2 -3.2zM313.7 240.5l3.2 3.2l-3.2 3.2l-3.2 -3.2zM314.8 240.0l3.2 3.2l-3.2 3.2l-3.2 -3.2zM315.9 239.6l3.2 3.2l-3.2 3.2l-3.2 -3.2zM316.9 239.2l3.2 3.2l-3.2 3.2l-3.2 -3.2zM318.0 238.8l3.2 3.2l-3.2 3.2l-3.2 -3.2zM319.0 238.4l3.2 3.2l-3.2 3.2l-3.2 -3.2zM320.1 238.1l3.2 3.2l-3.2 3.2l-3.2 -3.2zM321.1 237.7l3.2 3.2l-3.2 3.2l-3.2 -3.2zM322.2 237.4l3.2 3.2l-3.2 3.2l-3.2 -3.2zM323.2 237.1l3.2 3.2l-3.2 3.2l-3.2 -3.2zM324.3 236.8l3.2 3.2l-3.2 3.2l-3.2 -3.2zM325.3 236.6l3.2 3.2l-3.2 3.2l-3.2 -3.2zM326.4 236.3l3.2 3.2l-3.2 3.2l-3.2 -3.2zM327.4 236.0l3.2 3.2l-3.2 3.2l-3.2 -3.2zM328.5 235.7l3.2 3.2l-3.2 3.2l-3.2 -3.2zM329.5 235.4l3.2 3.2l-3.2 3.2l-3.2 -3.2zM330.6 235.0l3.2 3.2l-3.2 3.2l-3.2 -3.2zM331.6 234.7l3.2 3.2l-3.2 3.2l-3.2 -3.2zM332.7 234.3l3.2 3.2l-3.2 3.2l-3.2 -3.2zM333.7 233.9l3.2 3.2l-3.2 3.2l-3.2 -3.2zM334.7 233.5l3.2 3.2l-3.2 3.2l-3.2 -3.2zM335.8 233.1l3.2 3.2l-3.2 3.2l-3.2 -3.2zM336.8 232.7l3.2 3.2l-3.2 3.2l-3.2 -3.2zM337.9 232.3l3.2 3.2l-3.2 3.2l-3.2 -3.2zM339.0 231.8l3.2 3.2l-3.2 3.2l-3.2 -3.2zM340.0 231.4l3.2 3.2l-3.2 3.2l-3.2 -3.2zM341.1 231.0l3.2 3.2l-3.2 3.2l-3.2 -3.2zM342.1 230.5l3.2 3.2l-3.2 3.2l-3.2 -3.2zM343.2 230.1l3.2 3.2l-3.2 3.2l-3.2 -3.2zM344.2 229.7l3.2 3.2l-3.2 3.2l-3.2 -3.2zM345.2 229.3l3.2 3.2l-3.2 3.2l-3.2 -3.2zM346.3 228.9l3.2 3.2l-3.2 3.2l-3.2 -3.2zM347.4 228.5l3.2 3.2l-3.2 3.2l-3.2 -3.2zM348.4 228.0l3.2 3.2l-3.2 3.2l-3.2 -3.2zM349.5 227.6l3.2 3.2l-3.2 3.2l-3.2 -3.2zM350.5 227.2l3.2 3.2l-3.2 3.2l-3.2 -3.2zM351.6 226.8l3.2 3.2l-3.2 3.2l-3.2 -3.2zM352.6 226.3l3.2 3.2l-3.2 3.2l-3.2 -3.2zM353.6 225.9l3.2 3.2l-3.2 3.2l-3.2 -3.2zM354.7 225.5l3.2 3.2l-3.2 3.2l-3.2 -3.2zM355.8 225.1l3.2 3.2l-3.2 3.2l-3.2 -3.2zM356.8 224.7l3.2 3.2l-3.2 3.2l-3.2 -3.2zM357.9 224.2l3.2 3.2l-3.2 3.2l-3.2 -3.2zM358.9 223.8l3.2 3.2l-3.2 3.2l-3.2 -3.2zM360.0 223.4l3.2 3.2l-3.2 3.2l-3.2 -3.2zM361.0 223.0l3.2 3.2l-3.2 3.2l-3.2 -3.2zM362.1 222.6l3.2 3.2l-3.2 3.2l-3.2 -3.2zM363.1 222.2l3.2 3.2l-3.2 3.2l-3.2 -3.2zM364.2 221.8l3.2 3.2l-3.2 3.2l-3.2 -3.2zM365.2 221.4l3.2 3.2l-3.2 3.2l-3.2 -3.2zM366.3 221.0l3.2 3.2l-3.2 3.2l-3.2 -3.2zM367.3 220.6l3.2 3.2l-3.2 3.2l-3.2 -3.2zM368.4 220.2l3.2 3.2l-3.2 3.2l-3.2 -3.2zM369.4 219.8l3.2 3.2l-3.2 3.2l-3.2 -3.2zM370.5 219.4l3.2 3.2l-3.2 3.2l-3.2 -3.2zM371.5 219.0l3.2 3.2l-3.2 3.2l-3.2 -3.2zM372.6 218.6l3.2 3.2l-3.2 3.2l-3.2 -3.2zM373.6 218.2l3.2 3.2l-3.2 3.2l-3.2 -3.2zM374.7 217.8l3.2 3.2l-3.2 3.2l-3.2 -3.2zM375.7 217.4l3.2 3.2l-3.2 3.2l-3.2 -3.2zM376.8 217.0l3.2 3.2l-3.2 3.2l-3.2 -3.2zM377.8 216.6l3.2 3.2l-3.2 3.2l-3.2 -3.2zM378.8 216.2l3.2 3.2l-3.2 3.2l-3.2 -3.2zM379.9 215.8l3.2 3.2l-3.2 3.2l-3.2 -3.2zM381.0 215.5l3.2 3.2l-3.2 3.2l-3.2 -3.2zM382.0 215.1l3.2 3.2l-3.2 3.2l-3.2 -3.2zM383.1 214.7l3.2 3.2l-3.2 3.2l-3.2 -3.2zM384.1 214.3l3.2 3.2l-3.2 3.2l-3.2 -3.2zM385.2 213.9l3.2 3.2l-3.2 3.2l-3.2 -3.2zM386.2 213.6l3.2 3.2l-3.2 3.2l-3.2 -3.2zM387.3 213.2l3.2 3.2l-3.2 3.2l-3.2 -3.2zM388.3 212.8l3.2 3.2l-3.2 3.2l-3.2 -3.2zM389.4 212.4l3.2 3.2l-3.2 3.2l-3.2 -3.2zM390.4 212.1l3.2 3.2l-3.2 3.2l-3.2 -3.2zM391.4 211.7l3.2 3.2l-3.2 3.2l-3.2 -3.2zM392.5 211.3l3.2 3.2l-3.2 3.2l-3.2 -3.2zM393.6 211.0l3.2 3.2l-3.2 3.2l-3.2 -3.2zM394.6 210.6l3.2 3.2l-3.2 3.2l-3.2 -3.2zM395.7 210.2l3.2 3.2l-3.2 3.2l-3.2 -3.2zM396.7 209.9l3.2 3.2l-3.2 3.2l-3.2 -3.2zM397.8 209.5l3.2 3.2l-3.2 3.2l-3.2 -3.2zM398.8 209.2l3.2 3.2l-3.2 3.2l-3.2 -3.2zM399.9 208.8l3.2 3.2l-3.2 3.2l-3.2 -3.2zM400.9 208.5l3.2 3.2l-3.2 3.2l-3.2 -3.2zM402.0 208.1l3.2 3.2l-3.2 3.2l-3.2 -3.2zM403.0 207.8l3.2 3.2l-3.2 3.2l-3.2 -3.2zM404.1 207.4l3.2 3.2l-3.2 3.2l-3.2 -3.2zM405.1 207.1l3.2 3.2l-3.2 3.2l-3.2 -3.2zM406.2 206.7l3.2 3.2l-3.2 3.2l-3.2 -3.2zM407.2 206.4l3.2 3.2l-3.2 3.2l-3.2 -3.2zM408.3 206.0l3.2 3.2l-3.2 3.2l-3.2 -3.2zM409.3 205.6l3.2 3.2l-3.2 3.2l-3.2 -3.2zM410.4 205.3l3.2 3.2l-3.2 3.2l-3.2 -3.2zM411.4 204.9l3.2 3.2l-3.2 3.2l-3.2 -3.2zM412.5 204.5l3.2 3.2l-3.2 3.2l-3.2 -3.2zM413.5 204.2l3.2 3.2l-3.2 3.2l-3.2 -3.2zM414.6 203.8l3.2 3.2l-3.2 3.2l-3.2 -3.2zM415.6 203.4l3.2 3.2l-3.2 3.2l-3.2 -3.2zM416.7 203.0l3.2 3.2l-3.2 3.2l-3.2 -3.2zM417.7 202.6l3.2 3.2l-3.2 3.2l-3.2 -3.2zM418.8 202.3l3.2 3.2l-3.2 3.2l-3.2 -3.2zM419.8 201.9l3.2 3.2l-3.2 3.2l-3.2 -3.2zM420.9 201.5l3.2 3.2l-3.2 3.2l-3.2 -3.2zM421.9 201.2l3.2 3.2l-3.2 3.2l-3.2 -3.2zM423.0 200.8l3.2 3.2l-3.2 3.2l-3.2 -3.2zM424.0 200.4l3.2 3.2l-3.2 3.2l-3.2 -3.2zM425.0 200.1l3.2 3.2l-3.2 3.2l-3.2 -3.2zM426.1 199.7l3.2 3.2l-3.2 3.2l-3.2 -3.2zM427.2 199.4l3.2 3.2l-3.2 3.2l-3.2 -3.2zM428.2 199.1l3.2 3.2l-3.2 3.2l-3.2 -3.2zM429.3 198.7l3.2 3.2l-3.2 3.2l-3.2 -3.2zM430.3 198.4l3.2 3.2l-3.2 3.2l-3.2 -3.2zM431.4 198.1l3.2 3.2l-3.2 3.2l-3.2 -3.2zM432.4 197.7l3.2 3.2l-3.2 3.2l-3.2 -3.2zM433.5 197.4l3.2 3.2l-3.2 3.2l-3.2 -3.2zM434.5 197.1l3.2 3.2l-3.2 3.2l-3.2 -3.2zM435.6 196.8l3.2 3.2l-3.2 3.2l-3.2 -3.2zM436.6 196.4l3.2 3.2l-3.2 3.2l-3.2 -3.2zM437.7 196.1l3.2 3.2l-3.2 3.2l-3.2 -3.2zM438.7 195.7l3.2 3.2l-3.2 3.2l-3.2 -3.2zM439.8 195.4l3.2 3.2l-3.2 3.2l-3.2 -3.2zM440.8 195.0l3.2 3.2l-3.2 3.2l-3.2 -3.2zM441.9 194.6l3.2 3.2l-3.2 3.2l-3.2 -3.2zM442.9 194.3l3.2 3.2l-3.2 3.2l-3.2 -3.2zM444.0 193.9l3.2 3.2l-3.2 3.2l-3.2 -3.2zM445.0 193.6l3.2 3.2l-3.2 3.2l-3.2 -3.2zM446.0 193.2l3.2 3.2l-3.2 3.2l-3.2 -3.2zM447.1 192.8l3.2 3.2l-3.2 3.2l-3.2 -3.2zM448.2 192.4l3.2 3.2l-3.2 3.2l-3.2 -3.2zM449.2 192.0l3.2 3.2l-3.2 3.2l-3.2 -3.2zM450.3 191.7l3.2 3.2l-3.2 3.2l-3.2 -3.2zM451.3 191.3l3.2 3.2l-3.2 3.2l-3.2 -3.2zM452.4 190.9l3.2 3.2l-3.2 3.2l-3.2 -3.2zM453.4 190.5l3.2 3.2l-3.2 3.2l-3.2 -3.2zM454.5 190.1l3.2 3.2l-3.2 3.2l-3.2 -3.2zM455.5 189.7l3.2 3.2l-3.2 3.2l-3.2 -3.2zM456.6 189.2l3.2 3.2l-3.2 3.2l-3.2 -3.2zM457.6 188.8l3.2 3.2l-3.2 3.2l-3.2 -3.2zM458.7 188.4l3.2 3.2l-3.2 3.2l-3.2 -3.2zM459.7 187.9l3.2 3.2l-3.2 3.2l-3.2 -3.2zM460.7 187.5l3.2 3.2l-3.2 3.2l-3.2 -3.2zM461.8 187.1l3.2 3.2l-3.2 3.2l-3.2 -3.2zM462.9 186.6l3.2 3.2l-3.2 3.2l-3.2 -3.2zM463.9 186.2l3.2 3.2l-3.2 3.2l-3.2 -3.2zM465.0 185.7l3.2 3.2l-3.2 3.2l-3.2 -3.2zM466.0 185.2l3.2 3.2l-3.2 3.2l-3.2 -3.2zM467.1 184.8l3.2 3.2l-3.2 3.2l-3.2 -3.2zM468.1 184.3l3.2 3.2l-3.2 3.2l-3.2 -3.2zM469.2 183.8l3.2 3.2l-3.2 3.2l-3.2 -3.2zM470.2 183.3l3.2 3.2l-3.2 3.2l-3.2 -3.2zM471.3 182.8l3.2 3.2l-3.2 3.2l-3.2 -3.2zM472.3 182.4l3.2 3.2l-3.2 3.2l-3.2 -3.2zM473.3 181.9l3.2 3.2l-3.2 3.2l-3.2 -3.2zM474.4 181.3l3.2 3.2l-3.2 3.2l-3.2 -3.2zM475.4 180.8l3.2 3.2l-3.2 3.2l-3.2 -3.2zM476.5 180.3l3.2 3.2l-3.2 3.2l-3.2 -3.2zM477.5 179.9l3.2 3.2l-3.2 3.2l-3.2 -3.2zM478.6 179.3l3.2 3.2l-3.2 3.2l-3.2 -3.2zM479.7 178.8l3.2 3.2l-3.2 3.2l-3.2 -3.2zM480.7 178.3l3.2 3.2l-3.2 3.2l-3.2 -3.2zM481.7 177.8l3.2 3.2l-3.2 3.2l-3.2 -3.2zM482.8 177.3l3.2 3.2l-3.2 3.2l-3.2 -3.2zM483.9 176.8l3.2 3.2l-3.2 3.2l-3.2 -3.2zM484.9 176.2l3.2 3.2l-3.2 3.2l-3.2 -3.2zM486.0 175.7l3.2 3.2l-3.2 3.2l-3.2 -3.2zM487.0 175.1l3.2 3.2l-3.2 3.2l-3.2 -3.2zM488.0 174.5l3.2 3.2l-3.2 3.2l-3.2 -3.2zM489.1 174.0l3.2 3.2l-3.2 3.2l-3.2 -3.2zM490.1 173.3l3.2 3.2l-3.2 3.2l-3.2 -3.2zM491.1 172.7l3.2 3.2l-3.2 3.2l-3.2 -3.2zM492.2 172.0l3.2 3.2l-3.2 3.2l-3.2 -3.2zM493.3 171.3l3.2 3.2l-3.2 3.2l-3.2 -3.2zM494.3 170.6l3.2 3.2l-3.2 3.2l-3.2 -3.2zM495.3 169.8l3.2 3.2l-3.2 3.2l-3.2 -3.2zM496.4 169.1l3.2 3.2l-3.2 3.2l-3.2 -3.2zM497.4 168.2l3.2 3.2l-3.2 3.2l-3.2 -3.2zM498.5 167.4l3.2 3.2l-3.2 3.2l-3.2 -3.2zM499.5 166.5l3.2 3.2l-3.2 3.2l-3.2 -3.2zM500.6 165.5l3.2 3.2l-3.2 3.2l-3.2 -3.2zM501.6 164.6l3.2 3.2l-3.2 3.2l-3.2 -3.2zM502.6 163.6l3.2 3.2l-3.2 3.2l-3.2 -3.2zM503.7 162.6l3.2 3.2l-3.2 3.2l-3.2 -3.2zM504.0 162.3l3.2 3.2l-3.2 3.2l-3.2 -3.2zM133.2 93.2l3.2 3.2l-3.2 3.2l-3.2 -3.2zM133.9 106.3l3.2 3.2l-3.2 3.2l-3.2 -3.2zM134.8 118.2l3.2 3.2l-3.2 3.2l-3.2 -3.2zM135.5 128.2l3.2 3.2l-3.2 3.2l-3.2 -3.2zM136.4 139.5l3.2 3.2l-3.2 3.2l-3.2 -3.2zM137.7 152.5l3.2 3.2l-3.2 3.2l-3.2 -3.2zM139.4 163.6l3.2 3.2l-3.2 3.2l-3.2 -3.2zM141.2 175.0l3.2 3.2l-3.2 3.2l-3.2 -3.2zM142.7 184.5l3.2 3.2l-3.2 3.2l-3.2 -3.2zM144.5 193.2l3.2 3.2l-3.2 3.2l-3.2 -3.2zM146.4 198.2l3.2 3.2l-3.2 3.2l-3.2 -3.2zM148.2 200.0l3.2 3.2l-3.2 3.2l-3.2 -3.2zM149.5 203.6l3.2 3.2l-3.2 3.2l-3.2 -3.2zM151.4 210.4l3.2 3.2l-3.2 3.2l-3.2 -3.2zM152.7 215.0l3.2 3.2l-3.2 3.2l-3.2 -3.2zM154.1 219.1l3.2 3.2l-3.2 3.2l-3.2 -3.2zM155.9 223.2l3.2 3.2l-3.2 3.2l-3.2 -3.2zM158.2 227.3l3.2 3.2l-3.2 3.2l-3.2 -3.2zM160.5 230.4l3.2 3.2l-3.2 3.2l-3.2 -3.2zM162.4 232.9l3.2 3.2l-3.2 3.2l-3.2 -3.2zM164.5 235.5l3.2 3.2l-3.2 3.2l-3.2 -3.2zM166.5 237.8l3.2 3.2l-3.2 3.2l-3.2 -3.2zM167.5 239.0l3.2 3.2l-3.2 3.2l-3.2 -3.2zM168.6 240.1l3.2 3.2l-3.2 3.2l-3.2 -3.2zM169.7 241.2l3.2 3.2l-3.2 3.2l-3.2 -3.2zM170.8 242.3l3.2 3.2l-3.2 3.2l-3.2 -3.2zM171.8 243.2l3.2 3.2l-3.2 3.2l-3.2 -3.2zM172.9 244.2l3.2 3.2l-3.2 3.2l-3.2 -3.2zM173.9 245.1l3.2 3.2l-3.2 3.2l-3.2 -3.2zM175.0 245.9l3.2 3.2l-3.2 3.2l-3.2 -3.2zM176.1 246.8l3.2 3.2l-3.2 3.2l-3.2 -3.2zM177.1 247.6l3.2 3.2l-3.2 3.2l-3.2 -3.2zM178.2 248.3l3.2 3.2l-3.2 3.2l-3.2 -3.2zM179.2 249.1l3.2 3.2l-3.2 3.2l-3.2 -3.2zM180.3 249.8l3.2 3.2l-3.2 3.2l-3.2 -3.2zM181.3 250.5l3.2 3.2l-3.2 3.2l-3.2 -3.2zM182.4 251.2l3.2 3.2l-3.2 3.2l-3.2 -3.2zM183.4 251.8l3.2 3.2l-3.2 3.2l-3.2 -3.2zM184.5 252.5l3.2 3.2l-3.2 3.2l-3.2 -3.2zM185.5 253.1l3.2 3.2l-3.2 3.2l-3.2 -3.2zM186.6 253.6l3.2 3.2l-3.2 3.2l-3.2 -3.2zM187.7 254.2l3.2 3.2l-3.2 3.2l-3.2 -3.2zM188.7 254.6l3.2 3.2l-3.2 3.2l-3.2 -3.2zM189.8 255.1l3.2 3.2l-3.2 3.2l-3.2 -3.2zM190.8 255.5l3.2 3.2l-3.2 3.2l-3.2 -3.2zM191.9 255.8l3.2 3.2l-3.2 3.2l-3.2 -3.2zM193.0 256.2l3.2 3.2l-3.2 3.2l-3.2 -3.2zM194.0 256.5l3.2 3.2l-3.2 3.2l-3.2 -3.2zM195.0 256.8l3.2 3.2l-3.2 3.2l-3.2 -3.2zM196.1 257.1l3.2 3.2l-3.2 3.2l-3.2 -3.2zM197.2 257.4l3.2 3.2l-3.2 3.2l-3.2 -3.2zM198.2 257.6l3.2 3.2l-3.2 3.2l-3.2 -3.2zM199.3 257.8l3.2 3.2l-3.2 3.2l-3.2 -3.2zM200.3 258.0l3.2 3.2l-3.2 3.2l-3.2 -3.2zM201.4 258.2l3.2 3.2l-3.2 3.2l-3.2 -3.2zM202.4 258.4l3.2 3.2l-3.2 3.2l-3.2 -3.2zM203.5 258.5l3.2 3.2l-3.2 3.2l-3.2 -3.2zM204.5 258.7l3.2 3.2l-3.2 3.2l-3.2 -3.2zM205.5 258.8l3.2 3.2l-3.2 3.2l-3.2 -3.2zM206.6 258.9l3.2 3.2l-3.2 3.2l-3.2 -3.2zM207.7 259.0l3.2 3.2l-3.2 3.2l-3.2 -3.2zM208.7 259.1l3.2 3.2l-3.2 3.2l-3.2 -3.2zM209.8 259.2l3.2 3.2l-3.2 3.2l-3.2 -3.2zM210.8 259.3l3.2 3.2l-3.2 3.2l-3.2 -3.2zM211.9 259.4l3.2 3.2l-3.2 3.2l-3.2 -3.2zM212.9 259.5l3.2 3.2l-3.2 3.2l-3.2 -3.2zM214.0 259.6l3.2 3.2l-3.2 3.2l-3.2 -3.2zM215.0 259.6l3.2 3.2l-3.2 3.2l-3.2 -3.2zM216.1 259.6l3.2 3.2l-3.2 3.2l-3.2 -3.2zM217.1 259.6l3.2 3.2l-3.2 3.2l-3.2 -3.2zM218.2 259.6l3.2 3.2l-3.2 3.2l-3.2 -3.2zM219.2 259.6l3.2 3.2l-3.2 3.2l-3.2 -3.2zM220.3 259.6l3.2 3.2l-3.2 3.2l-3.2 -3.2zM221.3 259.6l3.2 3.2l-3.2 3.2l-3.2 -3.2zM222.4 259.6l3.2 3.2l-3.2 3.2l-3.2 -3.2zM223.4 259.6l3.2 3.2l-3.2 3.2l-3.2 -3.2zM224.5 259.6l3.2 3.2l-3.2 3.2l-3.2 -3.2zM225.5 259.6l3.2 3.2l-3.2 3.2l-3.2 -3.2zM226.6 259.5l3.2 3.2l-3.2 3.2l-3.2 -3.2zM227.6 259.5l3.2 3.2l-3.2 3.2l-3.2 -3.2zM228.6 259.3l3.2 3.2l-3.2 3.2l-3.2 -3.2zM229.7 259.2l3.2 3.2l-3.2 3.2l-3.2 -3.2zM230.7 259.0l3.2 3.2l-3.2 3.2l-3.2 -3.2zM231.8 258.9l3.2 3.2l-3.2 3.2l-3.2 -3.2zM232.9 258.7l3.2 3.2l-3.2 3.2l-3.2 -3.2zM233.9 258.5l3.2 3.2l-3.2 3.2l-3.2 -3.2zM234.9 258.3l3.2 3.2l-3.2 3.2l-3.2 -3.2zM236.0 258.1l3.2 3.2l-3.2 3.2l-3.2 -3.2zM237.0 257.9l3.2 3.2l-3.2 3.2l-3.2 -3.2zM238.1 257.7l3.2 3.2l-3.2 3.2l-3.2 -3.2zM239.2 257.5l3.2 3.2l-3.2 3.2l-3.2 -3.2zM240.2 257.3l3.2 3.2l-3.2 3.2l-3.2 -3.2zM241.3 257.1l3.2 3.2l-3.2 3.2l-3.2 -3.2zM242.3 256.8l3.2 3.2l-3.2 3.2l-3.2 -3.2zM243.3 256.6l3.2 3.2l-3.2 3.2l-3.2 -3.2zM244.4 256.3l3.2 3.2l-3.2 3.2l-3.2 -3.2zM245.4 256.0l3.2 3.2l-3.2 3.2l-3.2 -3.2zM246.5 255.8l3.2 3.2l-3.2 3.2l-3.2 -3.2zM247.5 255.5l3.2 3.2l-3.2 3.2l-3.2 -3.2zM248.6 255.3l3.2 3.2l-3.2 3.2l-3.2 -3.2zM249.7 255.0l3.2 3.2l-3.2 3.2l-3.2 -3.2zM250.7 254.7l3.2 3.2l-3.2 3.2l-3.2 -3.2zM251.7 254.5l3.2 3.2l-3.2 3.2l-3.2 -3.2zM252.8 254.2l3.2 3.2l-3.2 3.2l-3.2 -3.2zM253.8 253.9l3.2 3.2l-3.2 3.2l-3.2 -3.2zM254.9 253.6l3.2 3.2l-3.2 3.2l-3.2 -3.2zM255.9 253.3l3.2 3.2l-3.2 3.2l-3.2 -3.2zM257.0 253.0l3.2 3.2l-3.2 3.2l-3.2 -3.2zM258.0 252.8l3.2 3.2l-3.2 3.2l-3.2 -3.2zM259.1 252.5l3.2 3.2l-3.2 3.2l-3.2 -3.2zM260.1 252.2l3.2 3.2l-3.2 3.2l-3.2 -3.2zM261.2 251.8l3.2 3.2l-3.2 3.2l-3.2 -3.2zM262.2 251.5l3.2 3.2l-3.2 3.2l-3.2 -3.2zM263.3 251.2l3.2 3.2l-3.2 3.2l-3.2 -3.2zM264.4 250.9l3.2 3.2l-3.2 3.2l-3.2 -3.2zM265.4 250.6l3.2 3.2l-3.2 3.2l-3.2 -3.2zM266.5 250.2l3.2 3.2l-3.2 3.2l-3.2 -3.2zM267.5 249.9l3.2 3.2l-3.2 3.2l-3.2 -3.2zM268.5 249.6l3.2 3.2l-3.2 3.2l-3.2 -3.2zM269.6 249.2l3.2 3.2l-3.2 3.2l-3.2 -3.2zM270.6 248.8l3.2 3.2l-3.2 3.2l-3.2 -3.2zM271.7 248.5l3.2 3.2l-3.2 3.2l-3.2 -3.2zM272.7 248.1l3.2 3.2l-3.2 3.2l-3.2 -3.2zM273.8 247.7l3.2 3.2l-3.2 3.2l-3.2 -3.2zM274.8 247.4l3.2 3.2l-3.2 3.2l-3.2 -3.2zM275.9 247.0l3.2 3.2l-3.2 3.2l-3.2 -3.2zM276.9 246.6l3.2 3.2l-3.2 3.2l-3.2 -3.2zM278.0 246.2l3.2 3.2l-3.2 3.2l-3.2 -3.2zM279.0 245.9l3.2 3.2l-3.2 3.2l-3.2 -3.2zM280.1 245.5l3.2 3.2l-3.2 3.2l-3.2 -3.2zM281.1 245.1l3.2 3.2l-3.2 3.2l-3.2 -3.2zM282.2 244.7l3.2 3.2l-3.2 3.2l-3.2 -3.2zM283.2 244.3l3.2 3.2l-3.2 3.2l-3.2 -3.2zM284.3 243.9l3.2 3.2l-3.2 3.2l-3.2 -3.2zM285.3 243.5l3.2 3.2l-3.2 3.2l-3.2 -3.2zM286.4 243.1l3.2 3.2l-3.2 3.2l-3.2 -3.2zM287.4 242.7l3.2 3.2l-3.2 3.2l-3.2 -3.2zM288.5 242.3l3.2 3.2l-3.2 3.2l-3.2 -3.2zM289.5 241.9l3.2 3.2l-3.2 3.2l-3.2 -3.2zM290.6 241.5l3.2 3.2l-3.2 3.2l-3.2 -3.2zM291.6 241.1l3.2 3.2l-3.2 3.2l-3.2 -3.2zM292.7 240.7l3.2 3.2l-3.2 3.2l-3.2 -3.2zM293.7 240.4l3.2 3.2l-3.2 3.2l-3.2 -3.2zM294.8 240.0l3.2 3.2l-3.2 3.2l-3.2 -3.2zM295.8 239.6l3.2 3.2l-3.2 3.2l-3.2 -3.2zM296.9 239.2l3.2 3.2l-3.2 3.2l-3.2 -3.2zM297.9 238.8l3.2 3.2l-3.2 3.2l-3.2 -3.2zM299.0 238.4l3.2 3.2l-3.2 3.2l-3.2 -3.2zM300.0 238.1l3.2 3.2l-3.2 3.2l-3.2 -3.2zM301.1 237.7l3.2 3.2l-3.2 3.2l-3.2 -3.2zM302.2 237.4l3.2 3.2l-3.2 3.2l-3.2 -3.2zM303.2 237.0l3.2 3.2l-3.2 3.2l-3.2 -3.2zM304.2 236.7l3.2 3.2l-3.2 3.2l-3.2 -3.2zM305.3 236.4l3.2 3.2l-3.2 3.2l-3.2 -3.2zM306.3 236.0l3.2 3.2l-3.2 3.2l-3.2 -3.2zM307.4 235.7l3.2 3.2l-3.2 3.2l-3.2 -3.2zM308.4 235.4l3.2 3.2l-3.2 3.2l-3.2 -3.2zM309.5 235.0l3.2 3.2l-3.2 3.2l-3.2 -3.2zM310.5 234.7l3.2 3.2l-3.2 3.2l-3.2 -3.2zM311.6 234.4l3.2 3.2l-3.2 3.2l-3.2 -3.2zM312.6 234.1l3.2 3.2l-3.2 3.2l-3.2 -3.2zM313.7 233.7l3.2 3.2l-3.2 3.2l-3.2 -3.2zM314.7 233.4l3.2 3.2l-3.2 3.2l-3.2 -3.2zM315.8 233.1l3.2 3.2l-3.2 3.2l-3.2 -3.2zM316.8 232.8l3.2 3.2l-3.2 3.2l-3.2 -3.2zM317.9 232.5l3.2 3.2l-3.2 3.2l-3.2 -3.2zM319.0 232.1l3.2 3.2l-3.2 3.2l-3.2 -3.2zM320.0 231.8l3.2 3.2l-3.2 3.2l-3.2 -3.2zM321.1 231.5l3.2 3.2l-3.2 3.2l-3.2 -3.2zM322.1 231.2l3.2 3.2l-3.2 3.2l-3.2 -3.2zM323.1 230.9l3.2 3.2l-3.2 3.2l-3.2 -3.2zM324.2 230.6l3.2 3.2l-3.2 3.2l-3.2 -3.2zM325.2 230.3l3.2 3.2l-3.2 3.2l-3.2 -3.2zM326.3 229.9l3.2 3.2l-3.2 3.2l-3.2 -3.2zM327.3 229.6l3.2 3.2l-3.2 3.2l-3.2 -3.2zM328.4 229.3l3.2 3.2l-3.2 3.2l-3.2 -3.2zM329.4 229.0l3.2 3.2l-3.2 3.2l-3.2 -3.2zM330.5 228.6l3.2 3.2l-3.2 3.2l-3.2 -3.2zM331.5 228.3l3.2 3.2l-3.2 3.2l-3.2 -3.2zM332.6 228.0l3.2 3.2l-3.2 3.2l-3.2 -3.2zM333.6 227.7l3.2 3.2l-3.2 3.2l-3.2 -3.2zM334.7 227.4l3.2 3.2l-3.2 3.2l-3.2 -3.2zM335.7 227.0l3.2 3.2l-3.2 3.2l-3.2 -3.2zM336.8 226.7l3.2 3.2l-3.2 3.2l-3.2 -3.2zM337.9 226.4l3.2 3.2l-3.2 3.2l-3.2 -3.2zM338.9 226.1l3.2 3.2l-3.2 3.2l-3.2 -3.2zM340.0 225.7l3.2 3.2l-3.2 3.2l-3.2 -3.2zM341.0 225.4l3.2 3.2l-3.2 3.2l-3.2 -3.2zM342.1 225.1l3.2 3.2l-3.2 3.2l-3.2 -3.2zM343.1 224.8l3.2 3.2l-3.2 3.2l-3.2 -3.2zM344.2 224.4l3.2 3.2l-3.2 3.2l-3.2 -3.2zM345.2 224.1l3.2 3.2l-3.2 3.2l-3.2 -3.2zM346.3 223.8l3.2 3.2l-3.2 3.2l-3.2 -3.2zM347.3 223.5l3.2 3.2l-3.2 3.2l-3.2 -3.2zM348.3 223.2l3.2 3.2l-3.2 3.2l-3.2 -3.2zM349.4 222.8l3.2 3.2l-3.2 3.2l-3.2 -3.2zM350.4 222.5l3.2 3.2l-3.2 3.2l-3.2 -3.2zM351.5 222.2l3.2 3.2l-3.2 3.2l-3.2 -3.2zM352.5 221.9l3.2 3.2l-3.2 3.2l-3.2 -3.2zM353.6 221.6l3.2 3.2l-3.2 3.2l-3.2 -3.2zM354.6 221.2l3.2 3.2l-3.2 3.2l-3.2 -3.2zM355.7 220.9l3.2 3.2l-3.2 3.2l-3.2 -3.2zM356.7 220.6l3.2 3.2l-3.2 3.2l-3.2 -3.2zM357.8 220.3l3.2 3.2l-3.2 3.2l-3.2 -3.2zM358.8 220.0l3.2 3.2l-3.2 3.2l-3.2 -3.2zM359.9 219.6l3.2 3.2l-3.2 3.2l-3.2 -3.2zM360.9 219.3l3.2 3.2l-3.2 3.2l-3.2 -3.2zM362.0 219.0l3.2 3.2l-3.2 3.2l-3.2 -3.2zM363.0 218.7l3.2 3.2l-3.2 3.2l-3.2 -3.2zM364.1 218.3l3.2 3.2l-3.2 3.2l-3.2 -3.2zM365.1 218.0l3.2 3.2l-3.2 3.2l-3.2 -3.2zM366.2 217.7l3.2 3.2l-3.2 3.2l-3.2 -3.2zM367.3 217.4l3.2 3.2l-3.2 3.2l-3.2 -3.2zM368.3 217.0l3.2 3.2l-3.2 3.2l-3.2 -3.2zM369.4 216.7l3.2 3.2l-3.2 3.2l-3.2 -3.2zM370.4 216.4l3.2 3.2l-3.2 3.2l-3.2 -3.2zM371.5 216.1l3.2 3.2l-3.2 3.2l-3.2 -3.2zM372.5 215.8l3.2 3.2l-3.2 3.2l-3.2 -3.2zM373.6 215.4l3.2 3.2l-3.2 3.2l-3.2 -3.2zM374.6 215.1l3.2 3.2l-3.2 3.2l-3.2 -3.2zM375.7 214.8l3.2 3.2l-3.2 3.2l-3.2 -3.2zM376.7 214.5l3.2 3.2l-3.2 3.2l-3.2 -3.2zM377.7 214.2l3.2 3.2l-3.2 3.2l-3.2 -3.2zM378.8 213.8l3.2 3.2l-3.2 3.2l-3.2 -3.2zM379.8 213.5l3.2 3.2l-3.2 3.2l-3.2 -3.2zM380.9 213.2l3.2 3.2l-3.2 3.2l-3.2 -3.2zM381.9 212.9l3.2 3.2l-3.2 3.2l-3.2 -3.2zM383.0 212.6l3.2 3.2l-3.2 3.2l-3.2 -3.2zM384.0 212.2l3.2 3.2l-3.2 3.2l-3.2 -3.2zM385.1 211.9l3.2 3.2l-3.2 3.2l-3.2 -3.2zM386.1 211.6l3.2 3.2l-3.2 3.2l-3.2 -3.2zM387.2 211.3l3.2 3.2l-3.2 3.2l-3.2 -3.2zM388.3 211.0l3.2 3.2l-3.2 3.2l-3.2 -3.2zM389.3 210.7l3.2 3.2l-3.2 3.2l-3.2 -3.2zM390.3 210.4l3.2 3.2l-3.2 3.2l-3.2 -3.2zM391.4 210.1l3.2 3.2l-3.2 3.2l-3.2 -3.2zM392.4 209.8l3.2 3.2l-3.2 3.2l-3.2 -3.2zM393.5 209.5l3.2 3.2l-3.2 3.2l-3.2 -3.2zM394.6 209.2l3.2 3.2l-3.2 3.2l-3.2 -3.2zM395.6 209.0l3.2 3.2l-3.2 3.2l-3.2 -3.2zM396.6 208.7l3.2 3.2l-3.2 3.2l-3.2 -3.2zM397.7 208.4l3.2 3.2l-3.2 3.2l-3.2 -3.2zM398.7 208.2l3.2 3.2l-3.2 3.2l-3.2 -3.2zM399.8 207.9l3.2 3.2l-3.2 3.2l-3.2 -3.2zM400.9 207.6l3.2 3.2l-3.2 3.2l-3.2 -3.2zM401.9 207.3l3.2 3.2l-3.2 3.2l-3.2 -3.2zM402.9 207.0l3.2 3.2l-3.2 3.2l-3.2 -3.2zM404.0 206.8l3.2 3.2l-3.2 3.2l-3.2 -3.2zM405.1 206.5l3.2 3.2l-3.2 3.2l-3.2 -3.2zM406.1 206.2l3.2 3.2l-3.2 3.2l-3.2 -3.2zM407.1 205.9l3.2 3.2l-3.2 3.2l-3.2 -3.2zM408.2 205.6l3.2 3.2l-3.2 3.2l-3.2 -3.2zM409.2 205.2l3.2 3.2l-3.2 3.2l-3.2 -3.2zM410.3 204.9l3.2 3.2l-3.2 3.2l-3.2 -3.2zM411.3 204.6l3.2 3.2l-3.2 3.2l-3.2 -3.2zM412.4 204.2l3.2 3.2l-3.2 3.2l-3.2 -3.2zM413.4 203.8l3.2 3.2l-3.2 3.2l-3.2 -3.2zM414.5 203.4l3.2 3.2l-3.2 3.2l-3.2 -3.2zM415.5 203.1l3.2 3.2l-3.2 3.2l-3.2 -3.2zM416.6 202.7l3.2 3.2l-3.2 3.2l-3.2 -3.2zM417.6 202.3l3.2 3.2l-3.2 3.2l-3.2 -3.2zM418.7 201.9l3.2 3.2l-3.2 3.2l-3.2 -3.2zM419.7 201.5l3.2 3.2l-3.2 3.2l-3.2 -3.2zM420.8 201.1l3.2 3.2l-3.2 3.2l-3.2 -3.2zM421.8 200.7l3.2 3.2l-3.2 3.2l-3.2 -3.2zM422.9 200.4l3.2 3.2l-3.2 3.2l-3.2 -3.2zM423.9 200.0l3.2 3.2l-3.2 3.2l-3.2 -3.2zM425.0 199.6l3.2 3.2l-3.2 3.2l-3.2 -3.2zM426.0 199.2l3.2 3.2l-3.2 3.2l-3.2 -3.2zM427.1 198.8l3.2 3.2l-3.2 3.2l-3.2 -3.2zM428.1 198.5l3.2 3.2l-3.2 3.2l-3.2 -3.2zM429.2 198.1l3.2 3.2l-3.2 3.2l-3.2 -3.2zM430.2 197.7l3.2 3.2l-3.2 3.2l-3.2 -3.2zM431.3 197.3l3.2 3.2l-3.2 3.2l-3.2 -3.2zM432.3 196.9l3.2 3.2l-3.2 3.2l-3.2 -3.2zM433.4 196.6l3.2 3.2l-3.2 3.2l-3.2 -3.2zM434.4 196.2l3.2 3.2l-3.2 3.2l-3.2 -3.2zM435.5 195.8l3.2 3.2l-3.2 3.2l-3.2 -3.2zM436.5 195.4l3.2 3.2l-3.2 3.2l-3.2 -3.2zM437.6 195.0l3.2 3.2l-3.2 3.2l-3.2 -3.2zM438.6 194.6l3.2 3.2l-3.2 3.2l-3.2 -3.2zM439.7 194.3l3.2 3.2l-3.2 3.2l-3.2 -3.2zM440.7 193.9l3.2 3.2l-3.2 3.2l-3.2 -3.2zM441.8 193.5l3.2 3.2l-3.2 3.2l-3.2 -3.2zM442.8 193.1l3.2 3.2l-3.2 3.2l-3.2 -3.2zM443.9 192.7l3.2 3.2l-3.2 3.2l-3.2 -3.2zM444.9 192.4l3.2 3.2l-3.2 3.2l-3.2 -3.2zM446.0 192.0l3.2 3.2l-3.2 3.2l-3.2 -3.2zM447.0 191.6l3.2 3.2l-3.2 3.2l-3.2 -3.2zM448.1 191.2l3.2 3.2l-3.2 3.2l-3.2 -3.2zM449.1 190.8l3.2 3.2l-3.2 3.2l-3.2 -3.2zM450.2 190.4l3.2 3.2l-3.2 3.2l-3.2 -3.2zM451.2 190.0l3.2 3.2l-3.2 3.2l-3.2 -3.2zM452.3 189.6l3.2 3.2l-3.2 3.2l-3.2 -3.2zM453.3 189.2l3.2 3.2l-3.2 3.2l-3.2 -3.2zM454.4 188.8l3.2 3.2l-3.2 3.2l-3.2 -3.2zM455.4 188.4l3.2 3.2l-3.2 3.2l-3.2 -3.2zM456.5 188.0l3.2 3.2l-3.2 3.2l-3.2 -3.2zM457.5 187.5l3.2 3.2l-3.2 3.2l-3.2 -3.2zM458.6 187.1l3.2 3.2l-3.2 3.2l-3.2 -3.2zM459.6 186.7l3.2 3.2l-3.2 3.2l-3.2 -3.2zM460.7 186.2l3.2 3.2l-3.2 3.2l-3.2 -3.2zM461.7 185.8l3.2 3.2l-3.2 3.2l-3.2 -3.2zM462.8 185.3l3.2 3.2l-3.2 3.2l-3.2 -3.2zM463.8 184.9l3.2 3.2l-3.2 3.2l-3.2 -3.2zM464.9 184.4l3.2 3.2l-3.2 3.2l-3.2 -3.2zM465.9 184.0l3.2 3.2l-3.2 3.2l-3.2 -3.2zM467.0 183.5l3.2 3.2l-3.2 3.2l-3.2 -3.2zM468.0 183.0l3.2 3.2l-3.2 3.2l-3.2 -3.2zM469.1 182.6l3.2 3.2l-3.2 3.2l-3.2 -3.2zM470.1 182.1l3.2 3.2l-3.2 3.2l-3.2 -3.2zM471.1 181.6l3.2 3.2l-3.2 3.2l-3.2 -3.2zM472.2 181.1l3.2 3.2l-3.2 3.2l-3.2 -3.2zM473.3 180.6l3.2 3.2l-3.2 3.2l-3.2 -3.2zM474.3 180.1l3.2 3.2l-3.2 3.2l-3.2 -3.2zM475.3 179.6l3.2 3.2l-3.2 3.2l-3.2 -3.2zM476.4 179.1l3.2 3.2l-3.2 3.2l-3.2 -3.2zM477.5 178.6l3.2 3.2l-3.2 3.2l-3.2 -3.2zM478.5 178.1l3.2 3.2l-3.2 3.2l-3.2 -3.2zM479.5 177.6l3.2 3.2l-3.2 3.2l-3.2 -3.2zM480.6 177.1l3.2 3.2l-3.2 3.2l-3.2 -3.2zM481.7 176.5l3.2 3.2l-3.2 3.2l-3.2 -3.2zM482.7 176.0l3.2 3.2l-3.2 3.2l-3.2 -3.2zM483.7 175.5l3.2 3.2l-3.2 3.2l-3.2 -3.2zM484.8 174.9l3.2 3.2l-3.2 3.2l-3.2 -3.2zM485.8 174.4l3.2 3.2l-3.2 3.2l-3.2 -3.2zM486.9 173.8l3.2 3.2l-3.2 3.2l-3.2 -3.2zM487.9 173.3l3.2 3.2l-3.2 3.2l-3.2 -3.2zM489.0 172.7l3.2 3.2l-3.2 3.2l-3.2 -3.2zM490.1 172.0l3.2 3.2l-3.2 3.2l-3.2 -3.2zM491.1 171.4l3.2 3.2l-3.2 3.2l-3.2 -3.2zM492.1 170.8l3.2 3.2l-3.2 3.2l-3.2 -3.2zM493.2 170.1l3.2 3.2l-3.2 3.2l-3.2 -3.2zM494.2 169.4l3.2 3.2l-3.2 3.2l-3.2 -3.2zM495.2 168.7l3.2 3.2l-3.2 3.2l-3.2 -3.2zM496.3 167.9l3.2 3.2l-3.2 3.2l-3.2 -3.2zM497.3 167.1l3.2 3.2l-3.2 3.2l-3.2 -3.2zM498.4 166.3l3.2 3.2l-3.2 3.2l-3.2 -3.2zM499.4 165.5l3.2 3.2l-3.2 3.2l-3.2 -3.2zM500.5 164.6l3.2 3.2l-3.2 3.2l-3.2 -3.2zM501.5 163.7l3.2 3.2l-3.2 3.2l-3.2 -3.2zM502.6 162.8l3.2 3.2l-3.2 3.2l-3.2 -3.2zM503.6 161.9l3.2 3.2l-3.2 3.2l-3.2 -3.2zM504.0 161.5l3.2 3.2l-3.2 3.2l-3.2 -3.2z"/>
<g stroke="#000" stroke-width="1.7" fill="none" stroke-linecap="butt">
<path d="M93.3 11.2H541.8V372.6H93.3z"/>
<path d="M93.15 372.6v3.4M130.50 372.6v7.0M167.85 372.6v3.4M205.20 372.6v7.0M242.55 372.6v3.4M279.90 372.6v7.0M317.25 372.6v3.4M354.60 372.6v7.0M391.95 372.6v3.4M429.30 372.6v7.0M466.65 372.6v3.4M504.00 372.6v7.0M541.35 372.6v3.4M93.3 372.48h-3.4M93.3 336.35h-7.0M93.3 300.23h-3.4M93.3 264.10h-7.0M93.3 227.97h-3.4M93.3 191.85h-7.0M93.3 155.72h-3.4M93.3 119.60h-7.0M93.3 83.47h-3.4M93.3 47.35h-7.0M93.3 11.22h-3.4"/>
</g>
<g font-family="Liberation Sans, Arial, sans-serif" font-size="22" fill="#000">
<text transform="translate(130.8,402.4) scale(1,1.08)" text-anchor="middle">0.0</text>
<text transform="translate(205.5,402.4) scale(1,1.08)" text-anchor="middle">0.2</text>
<text transform="translate(280.2,402.4) scale(1,1.08)" text-anchor="middle">0.4</text>
<text transform="translate(354.9,402.4) scale(1,1.08)" text-anchor="middle">0.6</text>
<text transform="translate(429.6,402.4) scale(1,1.08)" text-anchor="middle">0.8</text>
<text transform="translate(504.3,402.4) scale(1,1.08)" text-anchor="middle">1.0</text>
<text transform="translate(80.8,54.2) scale(1,1.08)" text-anchor="end">1.0</text>
<text transform="translate(80.8,126.5) scale(1,1.08)" text-anchor="end">0.5</text>
<text transform="translate(80.8,198.8) scale(1,1.08)" text-anchor="end">0.0</text>
<text transform="translate(80.8,271.0) scale(1,1.08)" text-anchor="end">−0.5</text>
<text transform="translate(80.8,343.2) scale(1,1.08)" text-anchor="end">−1.0</text>
<text x="318.4" y="437.6" text-anchor="middle" font-style="italic">x/c</text>
<text transform="translate(24.6,202.3) rotate(-90) scale(0.97,1.08)" font-style="italic">C<tspan font-size="15.5" dy="4.9">p</tspan></text>
<rect x="251.8" y="67.9" width="183.7" height="84.4" fill="#fff" stroke="#7f7f7f" stroke-width="1"/>
<path fill="#000" d="M279.5 79.5l3.2 3.2l-3.2 3.2l-3.2 -3.2z"/>
<path fill="#f00" d="M277.1 107.8h4.7v4.7h-4.7z"/>
<path fill="#00f" d="M277.1 137.5a2.45 2.45 0 1 0 4.9 0a2.45 2.45 0 1 0 -4.9 0z"/>
<text x="310" y="90.6">coarse grid</text>
<text x="310" y="118.0">medium grid</text>
<text x="310" y="145.4">fine grid</text>
</g>
</svg>
</body></html>
